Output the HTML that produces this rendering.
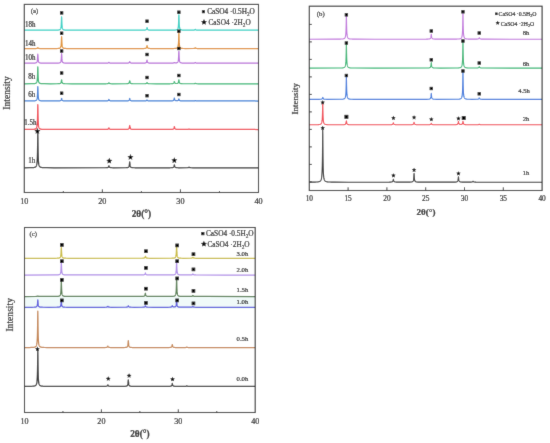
<!DOCTYPE html>
<html><head><meta charset="utf-8"><title>XRD patterns</title>
<style>html,body{margin:0;padding:0;background:#fff}svg{display:block}text{stroke:#1c1c1c;stroke-width:.2px}</style>
</head><body>
<svg width="550" height="443" viewBox="0 0 550 443" font-family='"Liberation Serif", serif' fill="#1c1c1c">
<defs><filter id="soft" x="0" y="0" width="100%" height="100%" filterUnits="objectBoundingBox"><feConvolveMatrix order="3" kernelMatrix="0.015 0.065 0.015 0.065 0.68 0.065 0.015 0.065 0.015" edgeMode="duplicate" preserveAlpha="true"/></filter></defs>
<rect width="550" height="443" fill="#fff"/>
<g filter="url(#soft)">
<rect width="550" height="443" fill="#fff" stroke="none"/>
<path d="M24.3 30.2 L54.8 30.16 L56.8 30.12 L57.7 30.08 L58.3 30.03 L58.7 29.98 L59 29.93 L59.2 29.89 L59.4 29.83 L59.6 29.76 L59.7 29.72 L59.8 29.67 L59.9 29.61 L60 29.55 L60.1 29.47 L60.2 29.38 L60.3 29.27 L60.4 29.14 L60.5 28.98 L60.6 28.79 L60.7 28.55 L60.8 28.25 L60.9 27.87 L61 27.36 L61.1 26.68 L61.2 25.72 L61.3 24.29 L61.4 22.09 L61.5 19.03 L61.6 16.75 L61.7 18.06 L61.8 21.19 L61.9 23.69 L62 25.33 L62.1 26.42 L62.2 27.17 L62.3 27.72 L62.4 28.14 L62.5 28.46 L62.6 28.72 L62.7 28.92 L62.8 29.09 L62.9 29.23 L63 29.34 L63.1 29.44 L63.2 29.52 L63.3 29.59 L63.4 29.65 L63.5 29.7 L63.6 29.75 L63.8 29.82 L64 29.88 L64.2 29.92 L64.5 29.98 L64.9 30.02 L65.4 30.07 L66.2 30.11 L67.8 30.15 L75.3 30.19 L143.2 30.15 L144.3 30.1 L144.8 30.06 L145.2 30.01 L145.5 29.95 L145.7 29.89 L145.8 29.85 L145.9 29.8 L146 29.75 L146.1 29.68 L146.2 29.6 L146.3 29.5 L146.4 29.38 L146.5 29.21 L146.6 28.99 L146.7 28.68 L146.8 28.29 L146.9 27.86 L147 27.61 L147.1 27.72 L147.2 28.11 L147.3 28.53 L147.4 28.87 L147.5 29.13 L147.6 29.31 L147.7 29.46 L147.8 29.56 L147.9 29.65 L148 29.72 L148.1 29.78 L148.2 29.83 L148.3 29.87 L148.5 29.93 L148.7 29.98 L149 30.03 L149.4 30.08 L150.1 30.12 L151.7 30.16 L173.6 30.12 L174.7 30.07 L175.3 30.03 L175.7 29.99 L176 29.94 L176.3 29.88 L176.5 29.83 L176.7 29.77 L176.8 29.73 L176.9 29.68 L177 29.63 L177.1 29.57 L177.2 29.51 L177.3 29.43 L177.4 29.33 L177.5 29.22 L177.6 29.09 L177.7 28.93 L177.8 28.74 L177.9 28.5 L178 28.2 L178.1 27.82 L178.2 27.33 L178.3 26.68 L178.4 25.79 L178.5 24.49 L178.6 22.52 L178.7 19.5 L178.8 15.9 L178.9 14.9 L179 17.87 L179.1 21.33 L179.2 23.73 L179.3 25.28 L179.4 26.32 L179.5 27.07 L179.6 27.62 L179.7 28.04 L179.8 28.37 L179.9 28.64 L180 28.85 L180.1 29.02 L180.2 29.17 L180.3 29.29 L180.4 29.39 L180.5 29.47 L180.6 29.54 L180.7 29.61 L180.8 29.66 L180.9 29.71 L181 29.75 L181.2 29.82 L181.4 29.87 L181.6 29.92 L181.9 29.97 L182.3 30.02 L182.8 30.06 L183.6 30.1 L185.2 30.14 L193.7 30.09 L194.1 30.05 L194.4 29.98 L194.6 29.91 L194.7 29.86 L194.8 29.8 L194.9 29.71 L195 29.61 L195.1 29.5 L195.2 29.41 L195.3 29.4 L195.4 29.46 L195.5 29.57 L195.6 29.68 L195.7 29.77 L195.8 29.84 L195.9 29.9 L196 29.94 L196.2 30 L196.4 30.04 L196.7 30.08 L197.2 30.12 L198.5 30.17 L258.4 30.2" fill="none" stroke="#2fd0c4" stroke-width="1.25" stroke-linejoin="round"/>
<path d="M24.3 48.6 L35.1 48.55 L36 48.51 L36.5 48.46 L36.8 48.4 L37 48.34 L37.1 48.3 L37.2 48.25 L37.3 48.19 L37.4 48.1 L37.5 47.99 L37.6 47.87 L37.7 47.75 L37.8 47.7 L37.9 47.74 L38 47.85 L38.1 47.98 L38.2 48.09 L38.3 48.18 L38.4 48.25 L38.5 48.3 L38.6 48.34 L38.8 48.4 L39 48.44 L39.3 48.48 L39.8 48.52 L41 48.56 L56.8 48.52 L57.8 48.48 L58.4 48.43 L58.8 48.38 L59.1 48.33 L59.3 48.29 L59.5 48.23 L59.7 48.16 L59.8 48.11 L59.9 48.06 L60 48 L60.1 47.93 L60.2 47.85 L60.3 47.75 L60.4 47.63 L60.5 47.49 L60.6 47.32 L60.7 47.1 L60.8 46.83 L60.9 46.49 L61 46.04 L61.1 45.42 L61.2 44.56 L61.3 43.28 L61.4 41.32 L61.5 38.62 L61.6 36.65 L61.7 37.78 L61.8 40.52 L61.9 42.75 L62 44.21 L62.1 45.18 L62.2 45.86 L62.3 46.36 L62.4 46.73 L62.5 47.02 L62.6 47.26 L62.7 47.44 L62.8 47.59 L62.9 47.72 L63 47.82 L63.1 47.91 L63.2 47.98 L63.3 48.05 L63.4 48.1 L63.5 48.15 L63.6 48.19 L63.8 48.25 L64 48.31 L64.2 48.35 L64.5 48.39 L64.9 48.44 L65.5 48.48 L66.5 48.53 L68.9 48.57 L143.8 48.52 L144.5 48.48 L144.9 48.44 L145.2 48.39 L145.4 48.35 L145.6 48.29 L145.7 48.25 L145.8 48.21 L145.9 48.16 L146 48.1 L146.1 48.03 L146.2 47.94 L146.3 47.83 L146.4 47.68 L146.5 47.49 L146.6 47.24 L146.7 46.89 L146.8 46.43 L146.9 45.92 L147 45.61 L147.1 45.75 L147.2 46.21 L147.3 46.71 L147.4 47.11 L147.5 47.4 L147.6 47.61 L147.7 47.77 L147.8 47.89 L147.9 47.99 L148 48.07 L148.1 48.14 L148.2 48.19 L148.3 48.24 L148.5 48.31 L148.7 48.36 L148.9 48.4 L149.2 48.45 L149.7 48.49 L150.5 48.53 L152.9 48.57 L173.2 48.53 L174.4 48.49 L175.1 48.45 L175.6 48.4 L175.9 48.36 L176.2 48.31 L176.4 48.26 L176.6 48.2 L176.8 48.13 L176.9 48.08 L177 48.03 L177.1 47.97 L177.2 47.91 L177.3 47.83 L177.4 47.73 L177.5 47.62 L177.6 47.49 L177.7 47.33 L177.8 47.14 L177.9 46.9 L178 46.6 L178.1 46.22 L178.2 45.73 L178.3 45.08 L178.4 44.19 L178.5 42.89 L178.6 40.92 L178.7 37.9 L178.8 34.3 L178.9 33.3 L179 36.27 L179.1 39.73 L179.2 42.13 L179.3 43.68 L179.4 44.72 L179.5 45.47 L179.6 46.02 L179.7 46.44 L179.8 46.77 L179.9 47.04 L180 47.25 L180.1 47.42 L180.2 47.57 L180.3 47.69 L180.4 47.79 L180.5 47.87 L180.6 47.94 L180.7 48.01 L180.8 48.06 L180.9 48.11 L181 48.15 L181.2 48.22 L181.4 48.27 L181.6 48.32 L181.9 48.37 L182.3 48.42 L182.8 48.46 L183.6 48.5 L185.2 48.54 L193.7 48.49 L194.1 48.45 L194.4 48.38 L194.6 48.31 L194.7 48.26 L194.8 48.2 L194.9 48.11 L195 48.01 L195.1 47.9 L195.2 47.81 L195.3 47.8 L195.4 47.86 L195.5 47.97 L195.6 48.08 L195.7 48.17 L195.8 48.24 L195.9 48.3 L196 48.34 L196.2 48.4 L196.4 48.44 L196.7 48.48 L197.2 48.52 L198.5 48.57 L258.4 48.6" fill="none" stroke="#e0912c" stroke-width="1.25" stroke-linejoin="round"/>
<path d="M24.3 63.19 L32.3 63.15 L33.8 63.11 L34.5 63.07 L35 63.02 L35.3 62.98 L35.6 62.92 L35.8 62.87 L36 62.8 L36.1 62.76 L36.2 62.71 L36.3 62.65 L36.4 62.58 L36.5 62.5 L36.6 62.41 L36.7 62.29 L36.8 62.15 L36.9 61.98 L37 61.76 L37.1 61.48 L37.2 61.12 L37.3 60.63 L37.4 59.93 L37.5 58.91 L37.6 57.37 L37.7 55.4 L37.8 54.2 L37.9 55.19 L38 57.17 L38.1 58.76 L38.2 59.84 L38.3 60.56 L38.4 61.07 L38.5 61.44 L38.6 61.73 L38.7 61.95 L38.8 62.13 L38.9 62.28 L39 62.39 L39.1 62.49 L39.2 62.57 L39.3 62.64 L39.4 62.7 L39.5 62.75 L39.6 62.79 L39.8 62.86 L40 62.92 L40.2 62.96 L40.5 63.01 L40.9 63.05 L41.5 63.09 L42.6 63.13 L46.3 63.17 L56.8 63.13 L57.9 63.09 L58.5 63.05 L58.9 63 L59.2 62.95 L59.4 62.91 L59.6 62.86 L59.8 62.79 L59.9 62.74 L60 62.69 L60.1 62.64 L60.2 62.57 L60.3 62.48 L60.4 62.39 L60.5 62.27 L60.6 62.13 L60.7 61.95 L60.8 61.73 L60.9 61.44 L61 61.07 L61.1 60.57 L61.2 59.87 L61.3 58.84 L61.4 57.29 L61.5 55.21 L61.6 53.73 L61.7 54.57 L61.8 56.67 L61.9 58.41 L62 59.59 L62.1 60.38 L62.2 60.93 L62.3 61.34 L62.4 61.64 L62.5 61.88 L62.6 62.07 L62.7 62.23 L62.8 62.35 L62.9 62.46 L63 62.54 L63.1 62.62 L63.2 62.68 L63.3 62.73 L63.4 62.77 L63.6 62.85 L63.8 62.9 L64 62.95 L64.3 63 L64.7 63.04 L65.3 63.09 L66.3 63.13 L69 63.17 L107 63.13 L107.5 63.09 L107.8 63.05 L108 63 L108.2 62.94 L108.3 62.9 L108.4 62.84 L108.5 62.77 L108.6 62.68 L108.7 62.57 L108.8 62.46 L108.9 62.4 L109 62.42 L109.1 62.51 L109.2 62.63 L109.3 62.73 L109.4 62.81 L109.5 62.87 L109.6 62.92 L109.8 62.99 L110 63.04 L110.3 63.08 L110.8 63.12 L112 63.17 L127.2 63.12 L127.8 63.08 L128.2 63.02 L128.4 62.98 L128.6 62.93 L128.7 62.89 L128.8 62.85 L128.9 62.79 L129 62.73 L129.1 62.64 L129.2 62.53 L129.3 62.39 L129.4 62.2 L129.5 61.97 L129.6 61.77 L129.7 61.7 L129.8 61.8 L129.9 62.02 L130 62.24 L130.1 62.42 L130.2 62.56 L130.3 62.66 L130.4 62.74 L130.5 62.8 L130.6 62.85 L130.7 62.9 L130.9 62.96 L131.1 63.01 L131.4 63.05 L131.8 63.09 L132.6 63.14 L135.7 63.18 L143.4 63.13 L144.3 63.09 L144.8 63.05 L145.1 63.01 L145.4 62.95 L145.6 62.89 L145.7 62.85 L145.8 62.81 L145.9 62.76 L146 62.7 L146.1 62.63 L146.2 62.54 L146.3 62.42 L146.4 62.28 L146.5 62.09 L146.6 61.84 L146.7 61.49 L146.8 61.03 L146.9 60.52 L147 60.21 L147.1 60.34 L147.2 60.81 L147.3 61.31 L147.4 61.7 L147.5 62 L147.6 62.21 L147.7 62.37 L147.8 62.49 L147.9 62.59 L148 62.67 L148.1 62.73 L148.2 62.79 L148.3 62.83 L148.5 62.91 L148.7 62.96 L148.9 63 L149.2 63.04 L149.7 63.09 L150.5 63.13 L152.8 63.17 L171.8 63.13 L172.7 63.08 L173.1 63.04 L173.4 62.99 L173.6 62.94 L173.7 62.91 L173.8 62.87 L173.9 62.81 L174 62.74 L174.1 62.66 L174.2 62.58 L174.3 62.52 L174.4 62.52 L174.5 62.57 L174.6 62.65 L174.7 62.73 L174.8 62.79 L174.9 62.83 L175.1 62.89 L175.5 62.93 L176.3 62.89 L176.6 62.83 L176.8 62.78 L177 62.71 L177.1 62.66 L177.2 62.61 L177.3 62.55 L177.4 62.47 L177.5 62.39 L177.6 62.28 L177.7 62.15 L177.8 62 L177.9 61.81 L178 61.57 L178.1 61.27 L178.2 60.89 L178.3 60.37 L178.4 59.67 L178.5 58.65 L178.6 57.11 L178.7 54.79 L178.8 52.08 L178.9 51.33 L179 53.55 L179.1 56.19 L179.2 58.06 L179.3 59.27 L179.4 60.1 L179.5 60.69 L179.6 61.12 L179.7 61.46 L179.8 61.72 L179.9 61.93 L180 62.1 L180.1 62.24 L180.2 62.36 L180.3 62.45 L180.4 62.53 L180.5 62.6 L180.6 62.66 L180.7 62.71 L180.8 62.76 L181 62.83 L181.2 62.89 L181.4 62.93 L181.7 62.98 L182.1 63.03 L182.6 63.07 L183.5 63.11 L185.4 63.15 L193.7 63.11 L194.1 63.06 L194.4 63.01 L194.6 62.94 L194.7 62.9 L194.8 62.84 L194.9 62.77 L195 62.68 L195.1 62.58 L195.2 62.51 L195.3 62.5 L195.4 62.55 L195.5 62.65 L195.6 62.74 L195.7 62.82 L195.8 62.88 L195.9 62.93 L196.1 63 L196.3 63.04 L196.6 63.09 L197.1 63.13 L198.4 63.17 L258.4 63.2" fill="none" stroke="#b86fd8" stroke-width="1.25" stroke-linejoin="round"/>
<path d="M24.3 83.79 L31.2 83.74 L32.9 83.7 L33.7 83.66 L34.3 83.61 L34.7 83.56 L35 83.51 L35.2 83.47 L35.4 83.41 L35.6 83.34 L35.7 83.3 L35.8 83.26 L35.9 83.2 L36 83.14 L36.1 83.07 L36.2 82.99 L36.3 82.89 L36.4 82.78 L36.5 82.64 L36.6 82.48 L36.7 82.28 L36.8 82.04 L36.9 81.74 L37 81.36 L37.1 80.87 L37.2 80.23 L37.3 79.36 L37.4 78.11 L37.5 76.25 L37.6 73.36 L37.7 69.39 L37.8 66.81 L37.9 68.95 L38 72.96 L38.1 75.99 L38.2 77.94 L38.3 79.24 L38.4 80.15 L38.5 80.81 L38.6 81.31 L38.7 81.7 L38.8 82.01 L38.9 82.26 L39 82.46 L39.1 82.63 L39.2 82.77 L39.3 82.88 L39.4 82.98 L39.5 83.06 L39.6 83.14 L39.7 83.2 L39.8 83.25 L39.9 83.3 L40 83.34 L40.2 83.41 L40.4 83.46 L40.6 83.51 L40.9 83.56 L41.3 83.61 L41.8 83.65 L42.6 83.7 L44.1 83.74 L50.6 83.78 L57.6 83.74 L58.6 83.69 L59.2 83.65 L59.6 83.59 L59.8 83.55 L60 83.49 L60.2 83.42 L60.3 83.38 L60.4 83.33 L60.5 83.26 L60.6 83.19 L60.7 83.09 L60.8 82.98 L60.9 82.84 L61 82.65 L61.1 82.41 L61.2 82.08 L61.3 81.61 L61.4 80.97 L61.5 80.25 L61.6 79.8 L61.7 80.05 L61.8 80.74 L61.9 81.43 L62 81.95 L62.1 82.32 L62.2 82.59 L62.3 82.79 L62.4 82.94 L62.5 83.06 L62.6 83.16 L62.7 83.24 L62.8 83.31 L62.9 83.36 L63 83.41 L63.1 83.45 L63.3 83.52 L63.5 83.56 L63.8 83.62 L64.2 83.66 L64.8 83.71 L66 83.75 L71.8 83.79 L106.3 83.75 L107.1 83.71 L107.5 83.66 L107.8 83.61 L108 83.56 L108.1 83.53 L108.2 83.48 L108.3 83.43 L108.4 83.36 L108.5 83.27 L108.6 83.16 L108.7 83.02 L108.8 82.88 L108.9 82.8 L109 82.83 L109.1 82.95 L109.2 83.09 L109.3 83.22 L109.4 83.32 L109.5 83.4 L109.6 83.46 L109.7 83.51 L109.9 83.58 L110.1 83.62 L110.4 83.67 L110.9 83.72 L111.9 83.76 L126.6 83.72 L127.3 83.67 L127.7 83.62 L128 83.56 L128.2 83.51 L128.4 83.44 L128.5 83.4 L128.6 83.34 L128.7 83.28 L128.8 83.2 L128.9 83.1 L129 82.98 L129.1 82.83 L129.2 82.62 L129.3 82.34 L129.4 81.96 L129.5 81.47 L129.6 80.99 L129.7 80.8 L129.8 81.07 L129.9 81.57 L130 82.04 L130.1 82.4 L130.2 82.67 L130.3 82.86 L130.4 83.01 L130.5 83.13 L130.6 83.22 L130.7 83.29 L130.8 83.35 L130.9 83.4 L131 83.45 L131.2 83.52 L131.4 83.57 L131.7 83.62 L132.1 83.67 L132.7 83.71 L134 83.75 L144.9 83.71 L145.4 83.67 L145.7 83.62 L145.9 83.58 L146.1 83.52 L146.2 83.48 L146.3 83.43 L146.4 83.36 L146.5 83.28 L146.6 83.17 L146.7 83.03 L146.8 82.86 L146.9 82.69 L147 82.6 L147.1 82.64 L147.2 82.79 L147.3 82.96 L147.4 83.12 L147.5 83.24 L147.6 83.33 L147.7 83.4 L147.8 83.46 L147.9 83.5 L148.1 83.57 L148.3 83.61 L148.6 83.66 L149.1 83.71 L150 83.75 L156.3 83.79 L170.1 83.75 L171.4 83.71 L172.1 83.66 L172.5 83.61 L172.8 83.55 L173 83.5 L173.2 83.43 L173.3 83.38 L173.4 83.33 L173.5 83.26 L173.6 83.18 L173.7 83.07 L173.8 82.94 L173.9 82.75 L174 82.51 L174.1 82.2 L174.2 81.84 L174.3 81.58 L174.4 81.6 L174.5 81.88 L174.6 82.23 L174.7 82.53 L174.8 82.76 L174.9 82.93 L175 83.06 L175.1 83.16 L175.2 83.23 L175.3 83.29 L175.4 83.34 L175.6 83.41 L175.8 83.46 L176.1 83.5 L177.1 83.46 L177.3 83.41 L177.5 83.34 L177.6 83.3 L177.7 83.25 L177.8 83.18 L177.9 83.1 L178 83 L178.1 82.88 L178.2 82.72 L178.3 82.52 L178.4 82.24 L178.5 81.86 L178.6 81.32 L178.7 80.62 L178.8 79.95 L178.9 79.8 L179 80.3 L179.1 81.03 L179.2 81.65 L179.3 82.1 L179.4 82.42 L179.5 82.66 L179.6 82.84 L179.7 82.98 L179.8 83.09 L179.9 83.18 L180 83.25 L180.1 83.32 L180.2 83.37 L180.3 83.41 L180.5 83.48 L180.7 83.54 L180.9 83.58 L181.2 83.62 L181.6 83.67 L182.3 83.71 L183.7 83.75 L194 83.71 L194.4 83.66 L194.6 83.61 L194.7 83.58 L194.8 83.54 L194.9 83.49 L195 83.42 L195.1 83.36 L195.2 83.31 L195.4 83.34 L195.5 83.4 L195.6 83.47 L195.7 83.53 L195.8 83.57 L196 83.63 L196.3 83.68 L196.8 83.73 L198.1 83.77 L258.4 83.8" fill="none" stroke="#33b572" stroke-width="1.25" stroke-linejoin="round"/>
<path d="M24.3 100.99 L31.5 100.95 L33.1 100.91 L33.9 100.87 L34.4 100.83 L34.8 100.78 L35.1 100.73 L35.3 100.69 L35.5 100.64 L35.7 100.57 L35.8 100.53 L35.9 100.48 L36 100.43 L36.1 100.37 L36.2 100.3 L36.3 100.21 L36.4 100.11 L36.5 100 L36.6 99.86 L36.7 99.68 L36.8 99.47 L36.9 99.21 L37 98.89 L37.1 98.47 L37.2 97.91 L37.3 97.16 L37.4 96.09 L37.5 94.49 L37.6 92.03 L37.7 88.67 L37.8 86.51 L37.9 88.3 L38 91.69 L38.1 94.27 L38.2 95.95 L38.3 97.06 L38.4 97.84 L38.5 98.41 L38.6 98.84 L38.7 99.18 L38.8 99.45 L38.9 99.66 L39 99.84 L39.1 99.98 L39.2 100.1 L39.3 100.2 L39.4 100.29 L39.5 100.36 L39.6 100.42 L39.7 100.48 L39.8 100.52 L39.9 100.56 L40.1 100.63 L40.3 100.68 L40.5 100.73 L40.8 100.78 L41.2 100.82 L41.7 100.86 L42.5 100.91 L44.1 100.95 L58.9 100.9 L59.5 100.85 L59.8 100.81 L60.1 100.75 L60.3 100.69 L60.4 100.65 L60.5 100.61 L60.6 100.56 L60.7 100.49 L60.8 100.41 L60.9 100.32 L61 100.19 L61.1 100.03 L61.2 99.81 L61.3 99.51 L61.4 99.13 L61.5 98.73 L61.6 98.5 L61.7 98.63 L61.8 99 L61.9 99.4 L62 99.73 L62.1 99.97 L62.2 100.15 L62.3 100.28 L62.4 100.39 L62.5 100.47 L62.6 100.54 L62.7 100.59 L62.8 100.64 L63 100.71 L63.2 100.77 L63.4 100.81 L63.7 100.85 L64.2 100.9 L65.1 100.94 L68 100.98 L106.1 100.94 L106.9 100.89 L107.3 100.84 L107.6 100.79 L107.8 100.74 L107.9 100.7 L108 100.66 L108.1 100.61 L108.2 100.55 L108.3 100.48 L108.4 100.37 L108.5 100.24 L108.6 100.07 L108.7 99.85 L108.8 99.63 L108.9 99.5 L109 99.55 L109.1 99.74 L109.2 99.97 L109.3 100.16 L109.4 100.31 L109.5 100.43 L109.6 100.52 L109.7 100.59 L109.8 100.64 L109.9 100.69 L110.1 100.75 L110.3 100.8 L110.6 100.85 L111 100.89 L111.7 100.93 L113.9 100.97 L126.4 100.93 L127.2 100.89 L127.7 100.84 L128 100.79 L128.2 100.74 L128.4 100.68 L128.5 100.64 L128.6 100.6 L128.7 100.54 L128.8 100.47 L128.9 100.39 L129 100.29 L129.1 100.16 L129.2 99.98 L129.3 99.74 L129.4 99.42 L129.5 99.02 L129.6 98.64 L129.7 98.5 L129.8 98.71 L129.9 99.11 L130 99.49 L130.1 99.8 L130.2 100.02 L130.3 100.19 L130.4 100.31 L130.5 100.41 L130.6 100.49 L130.7 100.55 L130.8 100.61 L130.9 100.65 L131.1 100.72 L131.3 100.77 L131.6 100.83 L132 100.87 L132.6 100.92 L133.9 100.96 L145.1 100.91 L145.6 100.86 L145.9 100.81 L146.1 100.76 L146.2 100.72 L146.3 100.68 L146.4 100.63 L146.5 100.56 L146.6 100.47 L146.7 100.35 L146.8 100.21 L146.9 100.07 L147 100 L147.1 100.03 L147.2 100.15 L147.3 100.29 L147.4 100.42 L147.5 100.52 L147.6 100.6 L147.7 100.66 L147.8 100.71 L148 100.78 L148.2 100.82 L148.5 100.87 L149 100.91 L150 100.96 L171.1 100.91 L171.8 100.87 L172.2 100.83 L172.5 100.78 L172.7 100.74 L172.9 100.68 L173 100.64 L173.1 100.6 L173.2 100.55 L173.3 100.5 L173.4 100.43 L173.5 100.34 L173.6 100.23 L173.7 100.1 L173.8 99.92 L173.9 99.68 L174 99.35 L174.1 98.92 L174.2 98.41 L174.3 98.02 L174.4 98.04 L174.5 98.46 L174.6 98.97 L174.7 99.39 L174.8 99.7 L174.9 99.93 L175 100.1 L175.1 100.23 L175.2 100.33 L175.3 100.41 L175.4 100.47 L175.5 100.53 L175.6 100.57 L175.8 100.64 L176 100.69 L176.3 100.73 L177.5 100.68 L177.7 100.62 L177.8 100.59 L177.9 100.54 L178 100.49 L178.1 100.42 L178.2 100.33 L178.3 100.22 L178.4 100.07 L178.5 99.87 L178.6 99.61 L178.7 99.3 L178.8 99.03 L178.9 98.97 L179 99.17 L179.1 99.48 L179.2 99.77 L179.3 100.01 L179.4 100.18 L179.5 100.31 L179.6 100.41 L179.7 100.49 L179.8 100.55 L179.9 100.61 L180 100.65 L180.2 100.72 L180.4 100.77 L180.7 100.82 L181.1 100.87 L181.7 100.91 L183 100.95 L194.2 100.91 L194.5 100.87 L194.7 100.82 L194.8 100.79 L194.9 100.75 L195 100.7 L195.1 100.64 L195.2 100.6 L195.4 100.63 L195.5 100.68 L195.6 100.73 L195.7 100.78 L195.9 100.84 L196.2 100.89 L196.7 100.94 L198.2 100.98 L258.4 101" fill="none" stroke="#3b7fd6" stroke-width="1.25" stroke-linejoin="round"/>
<path d="M24.3 129.48 L30.3 129.44 L32.1 129.4 L33 129.35 L33.6 129.31 L34 129.27 L34.4 129.21 L34.7 129.16 L34.9 129.11 L35.1 129.06 L35.3 128.99 L35.4 128.94 L35.5 128.9 L35.6 128.85 L35.7 128.79 L35.8 128.72 L35.9 128.64 L36 128.56 L36.1 128.45 L36.2 128.33 L36.3 128.2 L36.4 128.03 L36.5 127.83 L36.6 127.6 L36.7 127.31 L36.8 126.96 L36.9 126.52 L37 125.97 L37.1 125.26 L37.2 124.32 L37.3 123.05 L37.4 121.24 L37.5 118.51 L37.6 114.26 L37.7 108.38 L37.8 104.51 L37.9 107.73 L38 113.68 L38.1 118.13 L38.2 120.99 L38.3 122.88 L38.4 124.2 L38.5 125.17 L38.6 125.9 L38.7 126.47 L38.8 126.92 L38.9 127.28 L39 127.57 L39.1 127.81 L39.2 128.01 L39.3 128.18 L39.4 128.32 L39.5 128.44 L39.6 128.54 L39.7 128.63 L39.8 128.71 L39.9 128.78 L40 128.84 L40.1 128.89 L40.2 128.94 L40.3 128.98 L40.5 129.05 L40.7 129.11 L40.9 129.16 L41.2 129.21 L41.5 129.26 L41.9 129.3 L42.4 129.34 L43.2 129.38 L44.5 129.42 L47.6 129.46 L106.4 129.42 L107 129.37 L107.4 129.32 L107.6 129.28 L107.8 129.22 L107.9 129.19 L108 129.15 L108.1 129.09 L108.2 129.03 L108.3 128.95 L108.4 128.84 L108.5 128.7 L108.6 128.51 L108.7 128.28 L108.8 128.04 L108.9 127.9 L109 127.96 L109.1 128.16 L109.2 128.4 L109.3 128.61 L109.4 128.78 L109.5 128.9 L109.6 128.99 L109.7 129.06 L109.8 129.12 L109.9 129.17 L110.1 129.24 L110.3 129.29 L110.6 129.34 L111 129.39 L111.7 129.43 L113.7 129.47 L126 129.43 L126.9 129.38 L127.4 129.33 L127.7 129.29 L127.9 129.24 L128.1 129.19 L128.3 129.12 L128.4 129.07 L128.5 129.01 L128.6 128.95 L128.7 128.87 L128.8 128.77 L128.9 128.65 L129 128.5 L129.1 128.3 L129.2 128.04 L129.3 127.67 L129.4 127.16 L129.5 126.49 L129.6 125.78 L129.7 125.5 L129.8 125.91 L129.9 126.63 L130 127.28 L130.1 127.76 L130.2 128.1 L130.3 128.35 L130.4 128.53 L130.5 128.68 L130.6 128.79 L130.7 128.89 L130.8 128.96 L130.9 129.03 L131 129.08 L131.1 129.12 L131.3 129.2 L131.5 129.25 L131.7 129.29 L132 129.34 L132.4 129.38 L133.1 129.42 L134.7 129.46 L171.2 129.42 L171.9 129.37 L172.3 129.33 L172.6 129.28 L172.8 129.23 L173 129.16 L173.1 129.12 L173.2 129.07 L173.3 129.02 L173.4 128.95 L173.5 128.86 L173.6 128.76 L173.7 128.62 L173.8 128.44 L173.9 128.21 L174 127.88 L174.1 127.45 L174.2 126.93 L174.3 126.55 L174.4 126.57 L174.5 126.99 L174.6 127.5 L174.7 127.92 L174.8 128.24 L174.9 128.47 L175 128.64 L175.1 128.77 L175.2 128.87 L175.3 128.96 L175.4 129.02 L175.5 129.08 L175.6 129.13 L175.7 129.17 L175.9 129.23 L176.1 129.28 L176.4 129.33 L176.8 129.37 L177.4 129.42 L178.8 129.46 L187.7 129.41 L188.1 129.37 L188.3 129.33 L188.5 129.27 L188.6 129.22 L188.7 129.16 L188.8 129.09 L188.9 129.03 L189.1 129.01 L189.2 129.07 L189.3 129.14 L189.4 129.2 L189.5 129.25 L189.7 129.32 L189.9 129.36 L190.2 129.4 L190.8 129.44 L193.1 129.48 L258.4 129.5" fill="none" stroke="#f0404c" stroke-width="1.25" stroke-linejoin="round"/>
<path d="M24.3 167.77 L29.4 167.73 L31.2 167.69 L32.2 167.65 L32.9 167.6 L33.4 167.56 L33.8 167.51 L34.1 167.46 L34.4 167.4 L34.6 167.35 L34.8 167.29 L35 167.22 L35.1 167.18 L35.2 167.13 L35.3 167.08 L35.4 167.02 L35.5 166.96 L35.6 166.89 L35.7 166.81 L35.8 166.71 L35.9 166.6 L36 166.48 L36.1 166.34 L36.2 166.17 L36.3 165.98 L36.4 165.75 L36.5 165.47 L36.6 165.14 L36.7 164.74 L36.8 164.25 L36.9 163.64 L37 162.87 L37.1 161.88 L37.2 160.57 L37.3 158.79 L37.4 156.26 L37.5 152.44 L37.6 146.49 L37.7 138.25 L37.8 132.82 L37.9 137.33 L38 145.67 L38.1 151.9 L38.2 155.91 L38.3 158.55 L38.4 160.4 L38.5 161.75 L38.6 162.77 L38.7 163.56 L38.8 164.19 L38.9 164.69 L39 165.1 L39.1 165.44 L39.2 165.72 L39.3 165.95 L39.4 166.15 L39.5 166.32 L39.6 166.47 L39.7 166.59 L39.8 166.7 L39.9 166.8 L40 166.88 L40.1 166.95 L40.2 167.02 L40.3 167.08 L40.4 167.13 L40.5 167.17 L40.6 167.22 L40.8 167.29 L41 167.35 L41.2 167.4 L41.4 167.44 L41.7 167.49 L42 167.53 L42.4 167.58 L42.9 167.62 L43.6 167.66 L44.7 167.7 L46.8 167.74 L53.9 167.78 L105.7 167.74 L106.6 167.69 L107.1 167.64 L107.4 167.59 L107.6 167.54 L107.8 167.47 L107.9 167.43 L108 167.38 L108.1 167.31 L108.2 167.23 L108.3 167.13 L108.4 167 L108.5 166.83 L108.6 166.6 L108.7 166.3 L108.8 165.99 L108.9 165.8 L109 165.87 L109.1 166.15 L109.2 166.46 L109.3 166.72 L109.4 166.92 L109.5 167.07 L109.6 167.19 L109.7 167.28 L109.8 167.35 L109.9 167.4 L110 167.45 L110.2 167.52 L110.4 167.58 L110.7 167.63 L111.1 167.68 L111.7 167.72 L113.2 167.76 L125.9 167.72 L126.7 167.67 L127.2 167.62 L127.5 167.58 L127.7 167.53 L127.9 167.48 L128.1 167.41 L128.2 167.36 L128.3 167.31 L128.4 167.25 L128.5 167.18 L128.6 167.09 L128.7 166.98 L128.8 166.85 L128.9 166.68 L129 166.47 L129.1 166.2 L129.2 165.83 L129.3 165.31 L129.4 164.56 L129.5 163.51 L129.6 162.32 L129.7 161.8 L129.8 162.53 L129.9 163.74 L130 164.74 L130.1 165.43 L130.2 165.92 L130.3 166.26 L130.4 166.52 L130.5 166.72 L130.6 166.88 L130.7 167 L130.8 167.11 L130.9 167.19 L131 167.26 L131.1 167.32 L131.2 167.37 L131.3 167.42 L131.5 167.49 L131.7 167.54 L131.9 167.58 L132.2 167.62 L132.6 167.67 L133.3 167.71 L134.7 167.75 L143.6 167.79 L170.2 167.75 L171.4 167.71 L172 167.66 L172.4 167.61 L172.7 167.55 L172.9 167.5 L173 167.46 L173.1 167.42 L173.2 167.37 L173.3 167.32 L173.4 167.25 L173.5 167.16 L173.6 167.05 L173.7 166.92 L173.8 166.74 L173.9 166.51 L174 166.18 L174.1 165.74 L174.2 165.23 L174.3 164.85 L174.4 164.87 L174.5 165.29 L174.6 165.8 L174.7 166.22 L174.8 166.54 L174.9 166.77 L175 166.94 L175.1 167.07 L175.2 167.17 L175.3 167.25 L175.4 167.32 L175.5 167.38 L175.6 167.43 L175.7 167.47 L175.9 167.53 L176.1 167.58 L176.4 167.63 L176.8 167.67 L177.4 167.71 L178.8 167.76 L187.6 167.71 L188 167.66 L188.3 167.6 L188.4 167.56 L188.5 167.52 L188.6 167.47 L188.7 167.4 L188.8 167.32 L188.9 167.24 L189 167.2 L189.1 167.22 L189.2 167.28 L189.3 167.37 L189.4 167.44 L189.5 167.5 L189.6 167.55 L189.8 167.61 L190 167.66 L190.3 167.7 L190.9 167.74 L192.9 167.78 L258.4 167.8" fill="none" stroke="#2c2c2c" stroke-width="1.25" stroke-linejoin="round"/>
<rect x="24.3" y="4.4" width="234.2" height="188.1" fill="none" stroke="#262626" stroke-width="1.1"/>
<line x1="102.37" y1="192.5" x2="102.37" y2="189.3" stroke="#262626" stroke-width="0.9"/>
<line x1="180.43" y1="192.5" x2="180.43" y2="189.3" stroke="#262626" stroke-width="0.9"/>
<line x1="63.33" y1="192.5" x2="63.33" y2="191.06" stroke="#262626" stroke-width="0.9"/>
<line x1="141.4" y1="192.5" x2="141.4" y2="191.06" stroke="#262626" stroke-width="0.9"/>
<line x1="219.47" y1="192.5" x2="219.47" y2="191.06" stroke="#262626" stroke-width="0.9"/>
<text transform="translate(24.3 204.1) scale(1 1)" font-size="8.2" text-anchor="middle" font-weight="normal">10</text>
<text transform="translate(102.37 204.1) scale(1 1)" font-size="8.2" text-anchor="middle" font-weight="normal">20</text>
<text transform="translate(180.43 204.1) scale(1 1)" font-size="8.2" text-anchor="middle" font-weight="normal">30</text>
<text transform="translate(258.5 204.1) scale(1 1)" font-size="8.2" text-anchor="middle" font-weight="normal">40</text>
<rect x="59.97" y="11.25" width="3.3" height="3.3" fill="#000"/>
<rect x="145.37" y="19.55" width="3.3" height="3.3" fill="#000"/>
<rect x="177.22" y="10.55" width="3.3" height="3.3" fill="#000"/>
<rect x="59.97" y="31.55" width="3.3" height="3.3" fill="#000"/>
<rect x="145.37" y="37.85" width="3.3" height="3.3" fill="#000"/>
<rect x="177.22" y="29.55" width="3.3" height="3.3" fill="#000"/>
<rect x="59.97" y="49.35" width="3.3" height="3.3" fill="#000"/>
<rect x="145.37" y="52.85" width="3.3" height="3.3" fill="#000"/>
<rect x="177.22" y="46.85" width="3.3" height="3.3" fill="#000"/>
<rect x="59.97" y="71.35" width="3.3" height="3.3" fill="#000"/>
<rect x="145.37" y="75.85" width="3.3" height="3.3" fill="#000"/>
<rect x="177.22" y="73.85" width="3.3" height="3.3" fill="#000"/>
<rect x="59.97" y="91.55" width="3.3" height="3.3" fill="#000"/>
<rect x="145.37" y="94.05" width="3.3" height="3.3" fill="#000"/>
<rect x="177.22" y="92.85" width="3.3" height="3.3" fill="#000"/>
<polygon points="37.42,128.05 38.3,129.98 40.41,130.23 38.85,131.67 39.27,133.75 37.42,132.71 35.56,133.75 35.98,131.67 34.42,130.23 36.53,129.98" fill="#000"/>
<polygon points="109.31,157.85 110.2,159.78 112.31,160.03 110.75,161.47 111.17,163.55 109.31,162.51 107.46,163.55 107.88,161.47 106.32,160.03 108.43,159.78" fill="#000"/>
<polygon points="130.47,154.05 131.36,155.98 133.47,156.23 131.91,157.67 132.32,159.75 130.47,158.71 128.62,159.75 129.03,157.67 127.47,156.23 129.58,155.98" fill="#000"/>
<polygon points="174.34,157.25 175.23,159.18 177.34,159.43 175.78,160.87 176.2,162.95 174.34,161.91 172.49,162.95 172.91,160.87 171.35,159.43 173.46,159.18" fill="#000"/>
<text transform="translate(25 26.6) scale(0.96 1)" font-size="7.3" text-anchor="start" font-weight="normal">18h</text>
<text transform="translate(25 45.5) scale(0.96 1)" font-size="7.3" text-anchor="start" font-weight="normal">14h</text>
<text transform="translate(25 59.8) scale(0.96 1)" font-size="7.3" text-anchor="start" font-weight="normal">10h</text>
<text transform="translate(28.3 78.8) scale(0.96 1)" font-size="7.3" text-anchor="start" font-weight="normal">8h</text>
<text transform="translate(28.3 97.4) scale(0.96 1)" font-size="7.3" text-anchor="start" font-weight="normal">6h</text>
<text transform="translate(24.2 125.1) scale(0.96 1)" font-size="7.3" text-anchor="start" font-weight="normal">1.5h</text>
<text transform="translate(28.3 162.8) scale(0.96 1)" font-size="7.3" text-anchor="start" font-weight="normal">1h</text>
<text transform="translate(30.8 12.9) scale(0.96 1)" font-size="7" text-anchor="start" font-weight="normal">(a)</text>
<rect x="201.9" y="10.2" width="3" height="3" fill="#000"/>
<text x="207.2" y="13.9" font-size="7.3">CaSO4 ·0.5H<tspan font-size="5.26" dy="2.19">2</tspan><tspan dy="-2.19">O</tspan></text>
<polygon points="204,19.1 204.87,21 206.95,21.24 205.42,22.66 205.82,24.71 204,23.69 202.18,24.71 202.58,22.66 201.05,21.24 203.13,21" fill="#000"/>
<text x="208.5" y="24.8" font-size="7.3">CaSO4 ·2H<tspan font-size="5.26" dy="2.19">2</tspan><tspan dy="-2.19">O</tspan></text>
<text transform="translate(9.6 93) rotate(-90)" font-size="9.6" text-anchor="middle">Intensity</text>
<text x="141.4" y="217.4" font-size="9.3" text-anchor="middle" font-weight="bold">2θ(°)</text>
<path d="M309.3 39.2 L337.6 39.16 L340.1 39.12 L341.3 39.07 L342 39.03 L342.5 38.99 L342.9 38.94 L343.2 38.89 L343.4 38.84 L343.6 38.79 L343.8 38.73 L343.9 38.7 L344 38.66 L344.1 38.61 L344.2 38.56 L344.3 38.5 L344.4 38.43 L344.5 38.36 L344.6 38.27 L344.7 38.17 L344.8 38.05 L344.9 37.92 L345 37.75 L345.1 37.56 L345.2 37.32 L345.3 37.04 L345.4 36.68 L345.5 36.25 L345.6 35.69 L345.7 34.97 L345.8 34.03 L345.9 32.73 L346 30.88 L346.1 28.06 L346.2 23.66 L346.3 17.8 L346.4 14.72 L346.5 18.64 L346.6 24.41 L346.7 28.54 L346.8 31.19 L346.9 32.95 L347 34.18 L347.1 35.09 L347.2 35.78 L347.3 36.31 L347.4 36.74 L347.5 37.08 L347.6 37.36 L347.7 37.59 L347.8 37.78 L347.9 37.94 L348 38.07 L348.1 38.19 L348.2 38.29 L348.3 38.37 L348.4 38.44 L348.5 38.51 L348.6 38.57 L348.7 38.62 L348.8 38.66 L349 38.74 L349.2 38.8 L349.4 38.85 L349.6 38.89 L349.9 38.94 L350.3 38.99 L350.8 39.03 L351.5 39.07 L352.6 39.11 L355 39.16 L374.8 39.2 L426.3 39.15 L427.8 39.11 L428.5 39.07 L428.9 39.03 L429.2 38.98 L429.4 38.94 L429.6 38.88 L429.8 38.81 L429.9 38.76 L430 38.71 L430.1 38.64 L430.2 38.57 L430.3 38.47 L430.4 38.36 L430.5 38.21 L430.6 38.03 L430.7 37.79 L430.8 37.48 L430.9 37.03 L431 36.39 L431.1 35.52 L431.2 34.58 L431.3 34.2 L431.4 34.79 L431.5 35.76 L431.6 36.58 L431.7 37.16 L431.8 37.57 L431.9 37.86 L432 38.08 L432.1 38.25 L432.2 38.39 L432.3 38.5 L432.4 38.59 L432.5 38.66 L432.6 38.72 L432.7 38.77 L432.8 38.82 L433 38.89 L433.2 38.94 L433.4 38.98 L433.7 39.03 L434.1 39.07 L434.8 39.11 L436.3 39.15 L456.5 39.11 L457.7 39.07 L458.4 39.03 L458.9 38.98 L459.3 38.94 L459.6 38.89 L459.9 38.83 L460.1 38.78 L460.3 38.71 L460.4 38.68 L460.5 38.63 L460.6 38.59 L460.7 38.54 L460.8 38.48 L460.9 38.41 L461 38.34 L461.1 38.25 L461.2 38.15 L461.3 38.03 L461.4 37.89 L461.5 37.73 L461.6 37.54 L461.7 37.31 L461.8 37.04 L461.9 36.7 L462 36.28 L462.1 35.75 L462.2 35.08 L462.3 34.21 L462.4 33.04 L462.5 31.4 L462.6 29 L462.7 25.27 L462.8 19.63 L462.9 13.71 L463 13.87 L463.1 19.89 L463.2 25.46 L463.3 29.12 L463.4 31.48 L463.5 33.09 L463.6 34.25 L463.7 35.11 L463.8 35.78 L463.9 36.3 L464 36.71 L464.1 37.05 L464.2 37.32 L464.3 37.55 L464.4 37.74 L464.5 37.9 L464.6 38.04 L464.7 38.15 L464.8 38.25 L464.9 38.34 L465 38.41 L465.1 38.48 L465.2 38.54 L465.3 38.59 L465.4 38.64 L465.5 38.68 L465.7 38.75 L465.9 38.8 L466.1 38.85 L466.4 38.9 L466.7 38.95 L467.1 38.99 L467.6 39.03 L468.4 39.08 L469.8 39.12 L477.2 39.08 L477.6 39.03 L477.9 38.98 L478.1 38.93 L478.3 38.86 L478.4 38.81 L478.5 38.76 L478.6 38.68 L478.7 38.59 L478.8 38.46 L478.9 38.3 L479 38.09 L479.1 37.86 L479.2 37.7 L479.3 37.72 L479.4 37.89 L479.5 38.12 L479.6 38.32 L479.7 38.48 L479.8 38.6 L479.9 38.7 L480 38.77 L480.1 38.82 L480.2 38.87 L480.4 38.94 L480.6 38.99 L480.9 39.04 L481.3 39.09 L482 39.13 L483.9 39.17 L542.1 39.2" fill="none" stroke="#c074dc" stroke-width="1.1" stroke-linejoin="round"/>
<path d="M309.3 68.1 L337.6 68.06 L340.1 68.02 L341.3 67.97 L342 67.93 L342.5 67.89 L342.9 67.84 L343.2 67.79 L343.4 67.74 L343.6 67.69 L343.8 67.63 L343.9 67.6 L344 67.56 L344.1 67.51 L344.2 67.46 L344.3 67.4 L344.4 67.33 L344.5 67.26 L344.6 67.17 L344.7 67.07 L344.8 66.95 L344.9 66.82 L345 66.65 L345.1 66.46 L345.2 66.22 L345.3 65.94 L345.4 65.58 L345.5 65.15 L345.6 64.59 L345.7 63.87 L345.8 62.93 L345.9 61.63 L346 59.78 L346.1 56.96 L346.2 52.56 L346.3 46.7 L346.4 43.62 L346.5 47.54 L346.6 53.31 L346.7 57.44 L346.8 60.09 L346.9 61.85 L347 63.08 L347.1 63.99 L347.2 64.68 L347.3 65.21 L347.4 65.64 L347.5 65.98 L347.6 66.26 L347.7 66.49 L347.8 66.68 L347.9 66.84 L348 66.97 L348.1 67.09 L348.2 67.19 L348.3 67.27 L348.4 67.34 L348.5 67.41 L348.6 67.47 L348.7 67.52 L348.8 67.56 L349 67.64 L349.2 67.7 L349.4 67.75 L349.6 67.79 L349.9 67.84 L350.3 67.89 L350.8 67.93 L351.5 67.97 L352.6 68.01 L355 68.06 L374.8 68.1 L426.2 68.05 L427.7 68.01 L428.4 67.97 L428.8 67.93 L429.1 67.89 L429.4 67.82 L429.6 67.76 L429.7 67.73 L429.8 67.69 L429.9 67.64 L430 67.58 L430.1 67.51 L430.2 67.43 L430.3 67.33 L430.4 67.2 L430.5 67.05 L430.6 66.85 L430.7 66.6 L430.8 66.25 L430.9 65.77 L431 65.07 L431.1 64.1 L431.2 63.03 L431.3 62.61 L431.4 63.28 L431.5 64.37 L431.6 65.27 L431.7 65.91 L431.8 66.35 L431.9 66.67 L432 66.91 L432.1 67.09 L432.2 67.24 L432.3 67.35 L432.4 67.45 L432.5 67.53 L432.6 67.59 L432.7 67.65 L432.8 67.7 L432.9 67.74 L433.1 67.8 L433.3 67.85 L433.6 67.91 L434 67.95 L434.6 68 L435.7 68.04 L440.4 68.08 L455.2 68.04 L457 68 L458 67.95 L458.6 67.91 L459.1 67.86 L459.4 67.82 L459.7 67.77 L459.9 67.73 L460.1 67.68 L460.3 67.61 L460.4 67.58 L460.5 67.53 L460.6 67.49 L460.7 67.44 L460.8 67.38 L460.9 67.31 L461 67.24 L461.1 67.15 L461.2 67.05 L461.3 66.93 L461.4 66.79 L461.5 66.63 L461.6 66.44 L461.7 66.21 L461.8 65.94 L461.9 65.6 L462 65.18 L462.1 64.65 L462.2 63.98 L462.3 63.11 L462.4 61.94 L462.5 60.3 L462.6 57.9 L462.7 54.17 L462.8 48.53 L462.9 42.61 L463 42.77 L463.1 48.79 L463.2 54.36 L463.3 58.02 L463.4 60.38 L463.5 61.99 L463.6 63.15 L463.7 64.01 L463.8 64.68 L463.9 65.2 L464 65.61 L464.1 65.95 L464.2 66.22 L464.3 66.45 L464.4 66.64 L464.5 66.8 L464.6 66.94 L464.7 67.05 L464.8 67.15 L464.9 67.24 L465 67.31 L465.1 67.38 L465.2 67.44 L465.3 67.49 L465.4 67.54 L465.5 67.58 L465.7 67.65 L465.9 67.7 L466.1 67.75 L466.4 67.8 L466.7 67.85 L467.1 67.89 L467.6 67.93 L468.4 67.98 L469.8 68.02 L477.2 67.98 L477.6 67.93 L477.9 67.88 L478.1 67.83 L478.3 67.76 L478.4 67.71 L478.5 67.66 L478.6 67.58 L478.7 67.49 L478.8 67.36 L478.9 67.2 L479 66.99 L479.1 66.76 L479.2 66.6 L479.3 66.62 L479.4 66.79 L479.5 67.02 L479.6 67.22 L479.7 67.38 L479.8 67.5 L479.9 67.6 L480 67.67 L480.1 67.72 L480.2 67.77 L480.4 67.84 L480.6 67.89 L480.9 67.94 L481.3 67.99 L482 68.03 L483.9 68.07 L542.1 68.1" fill="none" stroke="#33b572" stroke-width="1.1" stroke-linejoin="round"/>
<path d="M309.3 99.39 L319 99.35 L320.2 99.31 L320.7 99.26 L321.1 99.21 L321.3 99.17 L321.5 99.11 L321.6 99.07 L321.7 99.03 L321.8 98.98 L321.9 98.92 L322 98.84 L322.1 98.74 L322.2 98.61 L322.3 98.43 L322.4 98.2 L322.5 97.91 L322.6 97.59 L322.7 97.4 L322.8 97.47 L322.9 97.75 L323 98.06 L323.1 98.33 L323.2 98.53 L323.3 98.68 L323.4 98.79 L323.5 98.88 L323.6 98.95 L323.7 99 L323.8 99.05 L324 99.12 L324.2 99.18 L324.5 99.23 L324.9 99.28 L325.5 99.32 L327 99.36 L340.2 99.32 L341.4 99.27 L342.1 99.23 L342.6 99.19 L343 99.14 L343.3 99.08 L343.5 99.04 L343.7 98.99 L343.9 98.92 L344 98.89 L344.1 98.84 L344.2 98.8 L344.3 98.74 L344.4 98.68 L344.5 98.61 L344.6 98.53 L344.7 98.43 L344.8 98.32 L344.9 98.19 L345 98.04 L345.1 97.85 L345.2 97.63 L345.3 97.36 L345.4 97.03 L345.5 96.62 L345.6 96.1 L345.7 95.43 L345.8 94.54 L345.9 93.32 L346 91.58 L346.1 88.93 L346.2 84.8 L346.3 79.3 L346.4 76.42 L346.5 80.09 L346.6 85.51 L346.7 89.39 L346.8 91.87 L346.9 93.52 L347 94.68 L347.1 95.54 L347.2 96.18 L347.3 96.69 L347.4 97.09 L347.5 97.41 L347.6 97.67 L347.7 97.88 L347.8 98.06 L347.9 98.21 L348 98.34 L348.1 98.45 L348.2 98.54 L348.3 98.62 L348.4 98.69 L348.5 98.75 L348.6 98.8 L348.7 98.85 L348.8 98.89 L349 98.96 L349.2 99.02 L349.4 99.07 L349.7 99.12 L350 99.17 L350.4 99.21 L351 99.25 L351.9 99.3 L353.5 99.34 L358.5 99.38 L426.9 99.34 L428 99.29 L428.6 99.25 L429 99.19 L429.3 99.13 L429.5 99.08 L429.7 99.01 L429.8 98.96 L429.9 98.91 L430 98.85 L430.1 98.78 L430.2 98.69 L430.3 98.58 L430.4 98.45 L430.5 98.29 L430.6 98.08 L430.7 97.8 L430.8 97.43 L430.9 96.91 L431 96.15 L431.1 95.08 L431.2 93.89 L431.3 93.41 L431.4 94.17 L431.5 95.39 L431.6 96.37 L431.7 97.06 L431.8 97.54 L431.9 97.88 L432 98.13 L432.1 98.33 L432.2 98.49 L432.3 98.61 L432.4 98.71 L432.5 98.8 L432.6 98.87 L432.7 98.93 L432.8 98.98 L432.9 99.02 L433.1 99.09 L433.3 99.14 L433.5 99.18 L433.8 99.22 L434.2 99.27 L434.9 99.31 L436.4 99.35 L456.4 99.31 L457.6 99.27 L458.3 99.23 L458.8 99.18 L459.2 99.14 L459.5 99.09 L459.8 99.03 L460 98.98 L460.2 98.92 L460.4 98.85 L460.5 98.8 L460.6 98.75 L460.7 98.7 L460.8 98.64 L460.9 98.57 L461 98.49 L461.1 98.4 L461.2 98.29 L461.3 98.17 L461.4 98.02 L461.5 97.85 L461.6 97.65 L461.7 97.41 L461.8 97.12 L461.9 96.76 L462 96.32 L462.1 95.76 L462.2 95.05 L462.3 94.13 L462.4 92.89 L462.5 91.17 L462.6 88.63 L462.7 84.69 L462.8 78.73 L462.9 72.46 L463 72.64 L463.1 79 L463.2 84.89 L463.3 88.75 L463.4 91.25 L463.5 92.95 L463.6 94.17 L463.7 95.08 L463.8 95.79 L463.9 96.34 L464 96.77 L464.1 97.13 L464.2 97.42 L464.3 97.66 L464.4 97.86 L464.5 98.03 L464.6 98.17 L464.7 98.29 L464.8 98.4 L464.9 98.49 L465 98.57 L465.1 98.64 L465.2 98.7 L465.3 98.76 L465.4 98.8 L465.5 98.85 L465.7 98.92 L465.9 98.98 L466.1 99.03 L466.3 99.07 L466.6 99.12 L467 99.17 L467.5 99.22 L468.2 99.26 L469.3 99.3 L471.8 99.34 L476.9 99.3 L477.5 99.25 L477.8 99.2 L478 99.16 L478.2 99.1 L478.3 99.06 L478.4 99.01 L478.5 98.96 L478.6 98.88 L478.7 98.79 L478.8 98.66 L478.9 98.5 L479 98.29 L479.1 98.06 L479.2 97.9 L479.3 97.92 L479.4 98.09 L479.5 98.32 L479.6 98.52 L479.7 98.68 L479.8 98.8 L479.9 98.89 L480 98.97 L480.1 99.02 L480.2 99.07 L480.4 99.14 L480.6 99.19 L480.9 99.24 L481.3 99.28 L482 99.33 L483.9 99.37 L542.1 99.4" fill="none" stroke="#3b78dc" stroke-width="1.1" stroke-linejoin="round"/>
<path d="M309.3 124.78 L315.5 124.74 L317.3 124.7 L318.2 124.66 L318.8 124.61 L319.2 124.57 L319.5 124.52 L319.8 124.46 L320 124.42 L320.2 124.36 L320.4 124.28 L320.5 124.24 L320.6 124.19 L320.7 124.13 L320.8 124.06 L320.9 123.99 L321 123.9 L321.1 123.8 L321.2 123.68 L321.3 123.54 L321.4 123.38 L321.5 123.18 L321.6 122.94 L321.7 122.64 L321.8 122.27 L321.9 121.81 L322 121.22 L322.1 120.44 L322.2 119.4 L322.3 117.92 L322.4 115.71 L322.5 112.28 L322.6 107.28 L322.7 103.03 L322.8 104.72 L322.9 109.96 L323 114.2 L323.1 116.94 L323.2 118.73 L323.3 119.97 L323.4 120.86 L323.5 121.54 L323.6 122.06 L323.7 122.47 L323.8 122.8 L323.9 123.06 L324 123.28 L324.1 123.46 L324.2 123.62 L324.3 123.74 L324.4 123.85 L324.5 123.95 L324.6 124.03 L324.7 124.1 L324.8 124.16 L324.9 124.21 L325 124.26 L325.1 124.3 L325.3 124.37 L325.5 124.43 L325.7 124.47 L326 124.53 L326.3 124.57 L326.7 124.61 L327.3 124.66 L328.2 124.7 L329.9 124.74 L343.4 124.69 L344 124.64 L344.3 124.6 L344.6 124.54 L344.8 124.49 L345 124.42 L345.1 124.37 L345.2 124.32 L345.3 124.25 L345.4 124.17 L345.5 124.08 L345.6 123.96 L345.7 123.81 L345.8 123.61 L345.9 123.35 L346 122.99 L346.1 122.49 L346.2 121.81 L346.3 121.1 L346.4 120.8 L346.5 121.19 L346.6 121.92 L346.7 122.57 L346.8 123.05 L346.9 123.39 L347 123.64 L347.1 123.83 L347.2 123.98 L347.3 124.09 L347.4 124.18 L347.5 124.26 L347.6 124.32 L347.7 124.38 L347.8 124.42 L348 124.5 L348.2 124.55 L348.4 124.59 L348.7 124.63 L349.1 124.68 L349.8 124.72 L351.4 124.76 L390.8 124.71 L391.4 124.67 L391.8 124.61 L392 124.57 L392.2 124.51 L392.3 124.47 L392.4 124.43 L392.5 124.38 L392.6 124.31 L392.7 124.23 L392.8 124.13 L392.9 124 L393 123.82 L393.1 123.59 L393.2 123.29 L393.3 122.98 L393.4 122.8 L393.5 122.89 L393.6 123.17 L393.7 123.48 L393.8 123.74 L393.9 123.94 L394 124.09 L394.1 124.2 L394.2 124.29 L394.3 124.35 L394.4 124.41 L394.5 124.46 L394.7 124.53 L394.9 124.58 L395.2 124.63 L395.6 124.68 L396.2 124.72 L397.7 124.76 L411.1 124.72 L411.8 124.67 L412.2 124.62 L412.5 124.56 L412.7 124.51 L412.8 124.47 L412.9 124.43 L413 124.38 L413.1 124.33 L413.2 124.25 L413.3 124.17 L413.4 124.06 L413.5 123.91 L413.6 123.72 L413.7 123.46 L413.8 123.11 L413.9 122.7 L414 122.36 L414.1 122.33 L414.2 122.62 L414.3 123.04 L414.4 123.4 L414.5 123.67 L414.6 123.88 L414.7 124.03 L414.8 124.15 L414.9 124.24 L415 124.31 L415.1 124.37 L415.2 124.42 L415.3 124.46 L415.5 124.53 L415.7 124.58 L416 124.63 L416.4 124.68 L417.1 124.72 L418.8 124.76 L428.8 124.72 L429.4 124.68 L429.8 124.62 L430 124.58 L430.2 124.53 L430.3 124.49 L430.4 124.45 L430.5 124.39 L430.6 124.33 L430.7 124.24 L430.8 124.13 L430.9 123.98 L431 123.79 L431.1 123.57 L431.2 123.37 L431.3 123.3 L431.4 123.41 L431.5 123.63 L431.6 123.85 L431.7 124.03 L431.8 124.16 L431.9 124.27 L432 124.35 L432.1 124.41 L432.2 124.46 L432.3 124.5 L432.5 124.56 L432.7 124.61 L433 124.66 L433.4 124.7 L434.2 124.74 L437 124.78 L454.2 124.74 L455.3 124.7 L455.9 124.66 L456.3 124.61 L456.6 124.56 L456.8 124.51 L457 124.45 L457.1 124.41 L457.2 124.36 L457.3 124.31 L457.4 124.24 L457.5 124.16 L457.6 124.07 L457.7 123.95 L457.8 123.79 L457.9 123.59 L458 123.32 L458.1 122.95 L458.2 122.44 L458.3 121.82 L458.4 121.33 L458.5 121.34 L458.6 121.85 L458.7 122.46 L458.8 122.96 L458.9 123.32 L459 123.59 L459.1 123.78 L459.2 123.92 L459.3 124.04 L459.4 124.13 L459.5 124.2 L459.6 124.26 L459.7 124.31 L459.8 124.35 L460 124.41 L460.3 124.46 L461.4 124.41 L461.6 124.35 L461.7 124.31 L461.8 124.26 L461.9 124.2 L462 124.12 L462.1 124.03 L462.2 123.92 L462.3 123.77 L462.4 123.57 L462.5 123.31 L462.6 122.94 L462.7 122.44 L462.8 121.82 L462.9 121.33 L463 121.34 L463.1 121.85 L463.2 122.47 L463.3 122.97 L463.4 123.34 L463.5 123.6 L463.6 123.8 L463.7 123.95 L463.8 124.07 L463.9 124.17 L464 124.24 L464.1 124.31 L464.2 124.36 L464.3 124.41 L464.5 124.48 L464.7 124.54 L464.9 124.58 L465.2 124.62 L465.6 124.66 L466.3 124.71 L467.7 124.75 L477.9 124.7 L478.3 124.65 L478.5 124.6 L478.7 124.53 L478.8 124.48 L478.9 124.42 L479 124.34 L479.1 124.25 L479.2 124.2 L479.3 124.2 L479.4 124.26 L479.5 124.35 L479.6 124.42 L479.7 124.49 L479.8 124.54 L480 124.61 L480.2 124.65 L480.5 124.69 L481.1 124.74 L483 124.78 L542.1 124.8" fill="none" stroke="#f0404c" stroke-width="1.1" stroke-linejoin="round"/>
<path d="M309.3 182.16 L313.3 182.12 L315.1 182.08 L316.2 182.03 L316.9 181.99 L317.4 181.95 L317.8 181.91 L318.2 181.86 L318.5 181.81 L318.8 181.75 L319 181.7 L319.2 181.64 L319.4 181.58 L319.5 181.54 L319.6 181.5 L319.7 181.45 L319.8 181.4 L319.9 181.34 L320 181.28 L320.1 181.22 L320.2 181.14 L320.3 181.06 L320.4 180.96 L320.5 180.86 L320.6 180.74 L320.7 180.6 L320.8 180.44 L320.9 180.26 L321 180.06 L321.1 179.81 L321.2 179.53 L321.3 179.2 L321.4 178.8 L321.5 178.32 L321.6 177.74 L321.7 177.03 L321.8 176.15 L321.9 175.04 L322 173.62 L322.1 171.76 L322.2 169.24 L322.3 165.69 L322.4 160.39 L322.5 152.12 L322.6 140.05 L322.7 129.76 L322.8 133.86 L322.9 146.54 L323 156.75 L323.1 163.34 L323.2 167.64 L323.3 170.61 L323.4 172.77 L323.5 174.39 L323.6 175.64 L323.7 176.62 L323.8 177.41 L323.9 178.05 L324 178.57 L324.1 179.01 L324.2 179.37 L324.3 179.68 L324.4 179.94 L324.5 180.16 L324.6 180.36 L324.7 180.52 L324.8 180.67 L324.9 180.8 L325 180.91 L325.1 181.01 L325.2 181.1 L325.3 181.18 L325.4 181.25 L325.5 181.32 L325.6 181.37 L325.7 181.43 L325.8 181.47 L325.9 181.52 L326.1 181.59 L326.3 181.66 L326.5 181.71 L326.7 181.76 L326.9 181.8 L327.2 181.85 L327.5 181.89 L327.9 181.94 L328.4 181.98 L329.1 182.03 L330 182.07 L331.5 182.11 L334.5 182.15 L348.3 182.19 L389.4 182.15 L390.5 182.11 L391.1 182.06 L391.5 182.01 L391.8 181.95 L392 181.89 L392.1 181.85 L392.2 181.81 L392.3 181.76 L392.4 181.7 L392.5 181.63 L392.6 181.54 L392.7 181.43 L392.8 181.28 L392.9 181.09 L393 180.84 L393.1 180.48 L393.2 180.02 L393.3 179.51 L393.4 179.2 L393.5 179.35 L393.6 179.83 L393.7 180.33 L393.8 180.72 L393.9 181.01 L394 181.22 L394.1 181.38 L394.2 181.5 L394.3 181.6 L394.4 181.67 L394.5 181.74 L394.6 181.79 L394.7 181.84 L394.9 181.91 L395.1 181.96 L395.4 182.02 L395.8 182.07 L396.4 182.11 L397.7 182.15 L410 182.11 L410.8 182.06 L411.3 182.02 L411.6 181.97 L411.9 181.91 L412.1 181.86 L412.3 181.78 L412.4 181.74 L412.5 181.69 L412.6 181.63 L412.7 181.55 L412.8 181.47 L412.9 181.36 L413 181.24 L413.1 181.08 L413.2 180.89 L413.3 180.65 L413.4 180.34 L413.5 179.93 L413.6 179.36 L413.7 178.54 L413.8 177.3 L413.9 175.52 L414 173.64 L414.1 173.4 L414.2 175.11 L414.3 176.99 L414.4 178.33 L414.5 179.22 L414.6 179.83 L414.7 180.27 L414.8 180.6 L414.9 180.85 L415 181.05 L415.1 181.21 L415.2 181.34 L415.3 181.45 L415.4 181.54 L415.5 181.61 L415.6 181.68 L415.7 181.73 L415.8 181.78 L416 181.85 L416.2 181.91 L416.4 181.95 L416.7 182 L417.1 182.05 L417.7 182.09 L418.7 182.13 L421.5 182.17 L454.5 182.13 L455.4 182.08 L455.9 182.04 L456.2 182 L456.5 181.94 L456.7 181.89 L456.9 181.81 L457 181.77 L457.1 181.72 L457.2 181.65 L457.3 181.58 L457.4 181.49 L457.5 181.38 L457.6 181.25 L457.7 181.08 L457.8 180.86 L457.9 180.57 L458 180.18 L458.1 179.62 L458.2 178.82 L458.3 177.76 L458.4 176.83 L458.5 176.87 L458.6 177.82 L458.7 178.87 L458.8 179.66 L458.9 180.2 L459 180.59 L459.1 180.87 L459.2 181.09 L459.3 181.25 L459.4 181.39 L459.5 181.49 L459.6 181.58 L459.7 181.66 L459.8 181.72 L459.9 181.77 L460 181.82 L460.2 181.89 L460.4 181.94 L460.6 181.98 L460.9 182.03 L461.3 182.07 L462 182.11 L463.5 182.15 L471.1 182.11 L471.6 182.06 L471.9 182.01 L472.1 181.96 L472.2 181.93 L472.3 181.89 L472.4 181.84 L472.5 181.77 L472.6 181.68 L472.7 181.57 L472.8 181.43 L472.9 181.29 L473 181.2 L473.1 181.22 L473.2 181.33 L473.3 181.47 L473.4 181.61 L473.5 181.71 L473.6 181.79 L473.7 181.85 L473.8 181.9 L474 181.97 L474.2 182.02 L474.5 182.07 L475 182.11 L476 182.16 L486.7 182.2 L542.1 182.2" fill="none" stroke="#2c2c2c" stroke-width="1.1" stroke-linejoin="round"/>
<rect x="309.3" y="6.2" width="232.8" height="184.3" fill="none" stroke="#262626" stroke-width="1.1"/>
<line x1="348.1" y1="190.5" x2="348.1" y2="187.3" stroke="#262626" stroke-width="0.9"/>
<line x1="386.9" y1="190.5" x2="386.9" y2="187.3" stroke="#262626" stroke-width="0.9"/>
<line x1="425.7" y1="190.5" x2="425.7" y2="187.3" stroke="#262626" stroke-width="0.9"/>
<line x1="464.5" y1="190.5" x2="464.5" y2="187.3" stroke="#262626" stroke-width="0.9"/>
<line x1="503.3" y1="190.5" x2="503.3" y2="187.3" stroke="#262626" stroke-width="0.9"/>
<line x1="309.3" y1="181.9" x2="311.86" y2="181.9" stroke="#262626" stroke-width="0.9"/>
<line x1="309.3" y1="164.4" x2="311.86" y2="164.4" stroke="#262626" stroke-width="0.9"/>
<line x1="309.3" y1="146.9" x2="311.86" y2="146.9" stroke="#262626" stroke-width="0.9"/>
<line x1="309.3" y1="129.4" x2="311.86" y2="129.4" stroke="#262626" stroke-width="0.9"/>
<line x1="309.3" y1="111.9" x2="311.86" y2="111.9" stroke="#262626" stroke-width="0.9"/>
<line x1="309.3" y1="94.4" x2="311.86" y2="94.4" stroke="#262626" stroke-width="0.9"/>
<line x1="309.3" y1="76.9" x2="311.86" y2="76.9" stroke="#262626" stroke-width="0.9"/>
<line x1="309.3" y1="59.4" x2="311.86" y2="59.4" stroke="#262626" stroke-width="0.9"/>
<line x1="309.3" y1="41.9" x2="311.86" y2="41.9" stroke="#262626" stroke-width="0.9"/>
<line x1="309.3" y1="24.4" x2="311.86" y2="24.4" stroke="#262626" stroke-width="0.9"/>
<text transform="translate(309.3 201.3) scale(0.98 1)" font-size="7.5" text-anchor="middle" font-weight="normal">10</text>
<text transform="translate(348.1 201.3) scale(0.98 1)" font-size="7.5" text-anchor="middle" font-weight="normal">15</text>
<text transform="translate(386.9 201.3) scale(0.98 1)" font-size="7.5" text-anchor="middle" font-weight="normal">20</text>
<text transform="translate(425.7 201.3) scale(0.98 1)" font-size="7.5" text-anchor="middle" font-weight="normal">25</text>
<text transform="translate(464.5 201.3) scale(0.98 1)" font-size="7.5" text-anchor="middle" font-weight="normal">30</text>
<text transform="translate(503.3 201.3) scale(0.98 1)" font-size="7.5" text-anchor="middle" font-weight="normal">35</text>
<text transform="translate(542.1 201.3) scale(0.98 1)" font-size="7.5" text-anchor="middle" font-weight="normal">40</text>
<rect x="344.74" y="13.15" width="3.3" height="3.3" fill="#000"/>
<rect x="429.64" y="29.35" width="3.3" height="3.3" fill="#000"/>
<rect x="461.3" y="10.15" width="3.3" height="3.3" fill="#000"/>
<rect x="477.59" y="31.35" width="3.3" height="3.3" fill="#000"/>
<rect x="344.74" y="41.35" width="3.3" height="3.3" fill="#000"/>
<rect x="429.64" y="58.15" width="3.3" height="3.3" fill="#000"/>
<rect x="461.3" y="39.35" width="3.3" height="3.3" fill="#000"/>
<rect x="477.59" y="61.35" width="3.3" height="3.3" fill="#000"/>
<rect x="344.74" y="73.85" width="3.3" height="3.3" fill="#000"/>
<rect x="429.64" y="86.85" width="3.3" height="3.3" fill="#000"/>
<rect x="461.3" y="69.35" width="3.3" height="3.3" fill="#000"/>
<rect x="477.59" y="92.15" width="3.3" height="3.3" fill="#000"/>
<polygon points="322.72,100.15 323.39,101.59 324.96,101.77 323.8,102.85 324.11,104.4 322.72,103.63 321.34,104.4 321.65,102.85 320.49,101.77 322.06,101.59" fill="#000"/>
<rect x="344.44" y="114.85" width="3.9" height="3.9" fill="#000"/>
<polygon points="393.42,115.65 394.08,117.09 395.65,117.27 394.49,118.35 394.8,119.9 393.42,119.13 392.04,119.9 392.35,118.35 391.18,117.27 392.76,117.09" fill="#000"/>
<polygon points="414.06,115.15 414.72,116.59 416.29,116.77 415.13,117.85 415.44,119.4 414.06,118.63 412.68,119.4 412.99,117.85 411.83,116.77 413.4,116.59" fill="#000"/>
<polygon points="431.29,116.95 431.95,118.39 433.52,118.57 432.36,119.65 432.67,121.2 431.29,120.43 429.91,121.2 430.21,119.65 429.05,118.57 430.62,118.39" fill="#000"/>
<polygon points="458.45,116.15 459.11,117.59 460.68,117.77 459.52,118.85 459.83,120.4 458.45,119.63 457.07,120.4 457.37,118.85 456.21,117.77 457.78,117.59" fill="#000"/>
<rect x="461.77" y="116.05" width="3.9" height="3.9" fill="#000"/>
<polygon points="322.72,125.65 323.39,127.09 324.96,127.27 323.8,128.35 324.11,129.9 322.72,129.13 321.34,129.9 321.65,128.35 320.49,127.27 322.06,127.09" fill="#000"/>
<polygon points="393.42,173.15 394.08,174.59 395.65,174.77 394.49,175.85 394.8,177.4 393.42,176.63 392.04,177.4 392.35,175.85 391.18,174.77 392.76,174.59" fill="#000"/>
<polygon points="414.06,167.65 414.72,169.09 416.29,169.27 415.13,170.35 415.44,171.9 414.06,171.13 412.68,171.9 412.99,170.35 411.83,169.27 413.4,169.09" fill="#000"/>
<polygon points="458.45,171.15 459.11,172.59 460.68,172.77 459.52,173.85 459.83,175.4 458.45,174.63 457.07,175.4 457.37,173.85 456.21,172.77 457.78,172.59" fill="#000"/>
<text transform="translate(529.3 35) scale(0.96 1)" font-size="6.9" text-anchor="end" font-weight="normal">8h</text>
<text transform="translate(529.3 65.6) scale(0.96 1)" font-size="6.9" text-anchor="end" font-weight="normal">6h</text>
<text transform="translate(529.8 93.2) scale(0.96 1)" font-size="6.9" text-anchor="end" font-weight="normal">4.5h</text>
<text transform="translate(529.3 121) scale(0.96 1)" font-size="6.9" text-anchor="end" font-weight="normal">2h</text>
<text transform="translate(529.3 175.2) scale(0.96 1)" font-size="6.9" text-anchor="end" font-weight="normal">1h</text>
<text transform="translate(316.8 16.2) scale(0.96 1)" font-size="7" text-anchor="start" font-weight="normal">(b)</text>
<rect x="495.05" y="12.55" width="2.5" height="2.5" fill="#000"/>
<text x="498.6" y="15.5" font-size="5.8">CaSO4 ·0.5H<tspan font-size="4.18" dy="1.74">2</tspan><tspan dy="-1.74">O</tspan></text>
<polygon points="497.7,20.7 498.35,22.11 499.89,22.29 498.75,23.34 499.05,24.86 497.7,24.1 496.35,24.86 496.65,23.34 495.51,22.29 497.05,22.11" fill="#000"/>
<text x="500.7" y="25.5" font-size="5.8">CaSO4 ·2H<tspan font-size="4.18" dy="1.74">2</tspan><tspan dy="-1.74">O</tspan></text>
<text transform="translate(298.4 98.8) rotate(-90)" font-size="9" text-anchor="middle">Intensity</text>
<text x="426" y="214.6" font-size="9" text-anchor="middle" font-weight="bold">2θ(°)</text>
<rect x="24.5" y="296.5" width="230.7" height="12.5" fill="#f0faf9"/>
<path d="M24.5 258.3 L55.1 258.26 L57 258.22 L57.8 258.17 L58.3 258.13 L58.7 258.08 L59 258.02 L59.2 257.97 L59.4 257.91 L59.5 257.87 L59.6 257.82 L59.7 257.77 L59.8 257.71 L59.9 257.63 L60 257.55 L60.1 257.44 L60.2 257.32 L60.3 257.16 L60.4 256.98 L60.5 256.74 L60.6 256.44 L60.7 256.05 L60.8 255.52 L60.9 254.79 L61 253.7 L61.1 252.05 L61.2 249.66 L61.3 247.51 L61.4 247.98 L61.5 250.43 L61.6 252.62 L61.7 254.07 L61.8 255.03 L61.9 255.7 L62 256.18 L62.1 256.54 L62.2 256.82 L62.3 257.04 L62.4 257.21 L62.5 257.36 L62.6 257.48 L62.7 257.57 L62.8 257.66 L62.9 257.73 L63 257.78 L63.1 257.84 L63.2 257.88 L63.4 257.95 L63.6 258.01 L63.8 258.05 L64.1 258.1 L64.5 258.14 L65.1 258.19 L66.1 258.23 L68.7 258.27 L142.5 258.23 L143.2 258.19 L143.6 258.14 L143.9 258.09 L144.1 258.03 L144.3 257.96 L144.4 257.92 L144.5 257.86 L144.6 257.8 L144.7 257.71 L144.8 257.6 L144.9 257.46 L145 257.26 L145.1 257.01 L145.2 256.69 L145.3 256.4 L145.4 256.3 L145.5 256.47 L145.6 256.78 L145.7 257.08 L145.8 257.32 L145.9 257.5 L146 257.63 L146.1 257.74 L146.2 257.82 L146.3 257.88 L146.4 257.93 L146.5 257.98 L146.7 258.04 L146.9 258.09 L147.2 258.14 L147.6 258.19 L148.3 258.23 L150.1 258.27 L171.7 258.23 L172.8 258.18 L173.4 258.14 L173.8 258.09 L174.1 258.04 L174.3 257.99 L174.5 257.94 L174.7 257.87 L174.8 257.82 L174.9 257.77 L175 257.71 L175.1 257.64 L175.2 257.56 L175.3 257.46 L175.4 257.35 L175.5 257.21 L175.6 257.03 L175.7 256.82 L175.8 256.55 L175.9 256.2 L176 255.74 L176.1 255.12 L176.2 254.25 L176.3 252.93 L176.4 250.91 L176.5 248.15 L176.6 246.31 L176.7 247.71 L176.8 250.5 L176.9 252.66 L177 254.07 L177.1 255 L177.2 255.65 L177.3 256.13 L177.4 256.49 L177.5 256.78 L177.6 257 L177.7 257.18 L177.8 257.33 L177.9 257.45 L178 257.55 L178.1 257.63 L178.2 257.7 L178.3 257.76 L178.4 257.81 L178.5 257.86 L178.7 257.93 L178.9 257.99 L179.1 258.03 L179.4 258.09 L179.8 258.13 L180.3 258.17 L181.2 258.22 L183.3 258.26 L190.9 258.21 L191.4 258.17 L191.7 258.13 L191.9 258.08 L192.1 258.02 L192.2 257.98 L192.3 257.92 L192.4 257.85 L192.5 257.76 L192.6 257.64 L192.7 257.5 L192.8 257.36 L192.9 257.29 L193 257.34 L193.1 257.47 L193.2 257.61 L193.3 257.74 L193.4 257.84 L193.5 257.91 L193.6 257.97 L193.7 258.01 L193.9 258.08 L194.1 258.13 L194.4 258.17 L194.9 258.22 L196 258.26 L226.6 258.3 L255.1 258.3" fill="none" stroke="#c9bb3a" stroke-width="1.25" stroke-linejoin="round"/>
<path d="M24.5 275 L54.8 274.96 L56.7 274.92 L57.6 274.88 L58.1 274.84 L58.5 274.79 L58.8 274.74 L59 274.69 L59.2 274.64 L59.4 274.57 L59.5 274.52 L59.6 274.47 L59.7 274.41 L59.8 274.34 L59.9 274.26 L60 274.17 L60.1 274.05 L60.2 273.91 L60.3 273.74 L60.4 273.53 L60.5 273.27 L60.6 272.93 L60.7 272.5 L60.8 271.91 L60.9 271.08 L61 269.86 L61.1 267.99 L61.2 265.26 L61.3 262.75 L61.4 263.3 L61.5 266.14 L61.6 268.63 L61.7 270.28 L61.8 271.36 L61.9 272.1 L62 272.64 L62.1 273.04 L62.2 273.35 L62.3 273.6 L62.4 273.8 L62.5 273.96 L62.6 274.09 L62.7 274.2 L62.8 274.29 L62.9 274.37 L63 274.43 L63.1 274.49 L63.2 274.54 L63.3 274.58 L63.5 274.65 L63.7 274.7 L63.9 274.74 L64.2 274.79 L64.6 274.84 L65.2 274.88 L66.2 274.93 L68.6 274.97 L142.6 274.92 L143.3 274.88 L143.7 274.82 L144 274.76 L144.2 274.7 L144.3 274.66 L144.4 274.62 L144.5 274.56 L144.6 274.5 L144.7 274.41 L144.8 274.3 L144.9 274.16 L145 273.96 L145.1 273.71 L145.2 273.39 L145.3 273.1 L145.4 273 L145.5 273.17 L145.6 273.48 L145.7 273.78 L145.8 274.02 L145.9 274.2 L146 274.33 L146.1 274.44 L146.2 274.52 L146.3 274.58 L146.4 274.63 L146.5 274.68 L146.7 274.74 L146.9 274.79 L147.2 274.84 L147.6 274.89 L148.3 274.93 L150.1 274.97 L171.6 274.93 L172.7 274.88 L173.3 274.84 L173.7 274.8 L174 274.75 L174.2 274.71 L174.4 274.66 L174.6 274.59 L174.7 274.55 L174.8 274.51 L174.9 274.46 L175 274.39 L175.1 274.32 L175.2 274.24 L175.3 274.14 L175.4 274.02 L175.5 273.87 L175.6 273.69 L175.7 273.47 L175.8 273.19 L175.9 272.83 L176 272.35 L176.1 271.71 L176.2 270.8 L176.3 269.44 L176.4 267.33 L176.5 264.45 L176.6 262.51 L176.7 263.98 L176.8 266.9 L176.9 269.15 L177 270.61 L177.1 271.58 L177.2 272.26 L177.3 272.76 L177.4 273.13 L177.5 273.42 L177.6 273.66 L177.7 273.84 L177.8 273.99 L177.9 274.12 L178 274.22 L178.1 274.31 L178.2 274.38 L178.3 274.45 L178.4 274.5 L178.5 274.55 L178.6 274.59 L178.8 274.65 L179 274.7 L179.2 274.75 L179.5 274.79 L179.9 274.84 L180.5 274.88 L181.5 274.92 L184.2 274.96 L190.8 274.92 L191.4 274.87 L191.7 274.83 L191.9 274.78 L192.1 274.72 L192.2 274.68 L192.3 274.62 L192.4 274.55 L192.5 274.46 L192.6 274.34 L192.7 274.2 L192.8 274.06 L192.9 273.99 L193 274.04 L193.1 274.17 L193.2 274.31 L193.3 274.44 L193.4 274.54 L193.5 274.61 L193.6 274.67 L193.7 274.71 L193.9 274.78 L194.1 274.83 L194.4 274.87 L194.9 274.92 L196 274.96 L224.4 275 L255.1 275" fill="none" stroke="#b08ee8" stroke-width="1.25" stroke-linejoin="round"/>
<path d="M24.5 296.5 L35.8 296.45 L36.6 296.41 L37 296.35 L37.2 296.3 L37.3 296.26 L37.4 296.21 L37.5 296.15 L37.6 296.09 L37.7 296.02 L37.9 296.02 L38 296.08 L38.1 296.15 L38.2 296.21 L38.3 296.26 L38.5 296.33 L38.7 296.37 L39.1 296.42 L39.9 296.46 L56.4 296.41 L57.3 296.37 L57.9 296.32 L58.3 296.28 L58.6 296.23 L58.8 296.19 L59 296.13 L59.2 296.07 L59.3 296.03 L59.4 295.98 L59.5 295.93 L59.6 295.87 L59.7 295.8 L59.8 295.72 L59.9 295.62 L60 295.5 L60.1 295.36 L60.2 295.2 L60.3 294.99 L60.4 294.74 L60.5 294.42 L60.6 294.01 L60.7 293.47 L60.8 292.75 L60.9 291.75 L61 290.26 L61.1 287.94 L61.2 284.52 L61.3 281.32 L61.4 282.02 L61.5 285.64 L61.6 288.74 L61.7 290.77 L61.8 292.09 L61.9 292.99 L62 293.65 L62.1 294.14 L62.2 294.52 L62.3 294.82 L62.4 295.06 L62.5 295.25 L62.6 295.41 L62.7 295.54 L62.8 295.65 L62.9 295.74 L63 295.82 L63.1 295.89 L63.2 295.95 L63.3 296 L63.4 296.04 L63.6 296.11 L63.8 296.17 L64 296.21 L64.3 296.27 L64.7 296.32 L65.2 296.36 L66 296.4 L67.5 296.44 L73.1 296.48 L141.5 296.44 L142.5 296.4 L143.1 296.35 L143.4 296.31 L143.7 296.25 L143.9 296.2 L144 296.17 L144.1 296.12 L144.2 296.08 L144.3 296.02 L144.4 295.95 L144.5 295.87 L144.6 295.77 L144.7 295.64 L144.8 295.47 L144.9 295.24 L145 294.94 L145.1 294.51 L145.2 293.96 L145.3 293.41 L145.4 293.2 L145.5 293.53 L145.6 294.11 L145.7 294.64 L145.8 295.03 L145.9 295.31 L146 295.52 L146.1 295.67 L146.2 295.8 L146.3 295.89 L146.4 295.97 L146.5 296.04 L146.6 296.09 L146.7 296.14 L146.9 296.21 L147.1 296.26 L147.3 296.3 L147.6 296.34 L148.1 296.39 L148.9 296.43 L151.3 296.47 L170.7 296.43 L172 296.39 L172.7 296.35 L173.2 296.3 L173.6 296.25 L173.9 296.19 L174.1 296.14 L174.3 296.08 L174.4 296.05 L174.5 296.01 L174.6 295.96 L174.7 295.91 L174.8 295.85 L174.9 295.78 L175 295.7 L175.1 295.6 L175.2 295.49 L175.3 295.35 L175.4 295.19 L175.5 294.99 L175.6 294.75 L175.7 294.45 L175.8 294.07 L175.9 293.58 L176 292.94 L176.1 292.07 L176.2 290.82 L176.3 288.95 L176.4 286.03 L176.5 281.93 L176.6 279.12 L176.7 281.26 L176.8 285.42 L176.9 288.56 L177 290.57 L177.1 291.89 L177.2 292.81 L177.3 293.49 L177.4 294 L177.5 294.39 L177.6 294.71 L177.7 294.96 L177.8 295.16 L177.9 295.33 L178 295.47 L178.1 295.58 L178.2 295.68 L178.3 295.77 L178.4 295.84 L178.5 295.9 L178.6 295.95 L178.7 296 L178.8 296.04 L179 296.11 L179.2 296.16 L179.4 296.21 L179.7 296.26 L180.1 296.31 L180.6 296.35 L181.4 296.4 L182.9 296.44 L191.2 296.39 L191.6 296.34 L191.9 296.28 L192.1 296.22 L192.2 296.18 L192.3 296.12 L192.4 296.05 L192.5 295.96 L192.6 295.84 L192.7 295.7 L192.8 295.56 L192.9 295.49 L193 295.54 L193.1 295.66 L193.2 295.81 L193.3 295.94 L193.4 296.03 L193.5 296.11 L193.6 296.17 L193.7 296.21 L193.9 296.28 L194.1 296.32 L194.4 296.37 L194.9 296.41 L195.9 296.45 L206.1 296.49 L255.1 296.5" fill="none" stroke="#557d50" stroke-width="1.25" stroke-linejoin="round"/>
<path d="M24.5 307.29 L32.7 307.25 L34.1 307.21 L34.8 307.16 L35.2 307.12 L35.5 307.08 L35.7 307.03 L35.9 306.98 L36.1 306.91 L36.2 306.87 L36.3 306.82 L36.4 306.76 L36.5 306.69 L36.6 306.61 L36.7 306.51 L36.8 306.39 L36.9 306.24 L37 306.06 L37.1 305.82 L37.2 305.51 L37.3 305.09 L37.4 304.5 L37.5 303.63 L37.6 302.34 L37.7 300.73 L37.8 299.8 L37.9 300.62 L38 302.23 L38.1 303.55 L38.2 304.44 L38.3 305.05 L38.4 305.48 L38.5 305.8 L38.6 306.04 L38.7 306.23 L38.8 306.38 L38.9 306.5 L39 306.61 L39.1 306.69 L39.2 306.76 L39.3 306.82 L39.4 306.87 L39.5 306.91 L39.7 306.98 L39.9 307.03 L40.1 307.07 L40.4 307.12 L40.8 307.16 L41.4 307.2 L42.6 307.24 L48.8 307.28 L56.8 307.24 L58 307.2 L58.6 307.15 L59 307.1 L59.3 307.05 L59.5 307 L59.7 306.94 L59.8 306.89 L59.9 306.85 L60 306.79 L60.1 306.72 L60.2 306.64 L60.3 306.55 L60.4 306.43 L60.5 306.28 L60.6 306.1 L60.7 305.86 L60.8 305.54 L60.9 305.1 L61 304.47 L61.1 303.56 L61.2 302.36 L61.3 301.39 L61.4 301.59 L61.5 302.73 L61.6 303.87 L61.7 304.69 L61.8 305.25 L61.9 305.65 L62 305.94 L62.1 306.16 L62.2 306.33 L62.3 306.47 L62.4 306.58 L62.5 306.67 L62.6 306.75 L62.7 306.81 L62.8 306.86 L62.9 306.91 L63.1 306.98 L63.3 307.04 L63.5 307.08 L63.8 307.12 L64.2 307.17 L64.9 307.21 L66.3 307.25 L75.4 307.29 L105.2 307.25 L106.1 307.2 L106.5 307.16 L106.8 307.1 L107 307.04 L107.1 307.01 L107.2 306.96 L107.3 306.89 L107.4 306.81 L107.5 306.71 L107.6 306.57 L107.7 306.43 L107.8 306.32 L107.9 306.31 L108 306.4 L108.1 306.55 L108.2 306.68 L108.3 306.79 L108.4 306.88 L108.5 306.95 L108.6 307 L108.7 307.04 L108.9 307.1 L109.1 307.14 L109.4 307.18 L109.9 307.22 L111.1 307.26 L125.9 307.22 L126.5 307.17 L126.8 307.13 L127.1 307.07 L127.3 307.01 L127.4 306.96 L127.5 306.92 L127.6 306.85 L127.7 306.77 L127.8 306.67 L127.9 306.54 L128 306.36 L128.1 306.14 L128.2 305.92 L128.3 305.8 L128.4 305.87 L128.5 306.07 L128.6 306.3 L128.7 306.49 L128.8 306.64 L128.9 306.75 L129 306.83 L129.1 306.9 L129.2 306.95 L129.3 306.99 L129.5 307.06 L129.7 307.11 L130 307.16 L130.4 307.2 L131.2 307.24 L134.2 307.28 L142.5 307.24 L143.3 307.2 L143.7 307.16 L144 307.11 L144.2 307.06 L144.4 306.99 L144.5 306.95 L144.6 306.9 L144.7 306.83 L144.8 306.75 L144.9 306.64 L145 306.49 L145.1 306.3 L145.2 306.07 L145.3 305.87 L145.4 305.8 L145.5 305.91 L145.6 306.13 L145.7 306.35 L145.8 306.53 L145.9 306.67 L146 306.77 L146.1 306.85 L146.2 306.91 L146.3 306.96 L146.4 307 L146.6 307.07 L146.8 307.11 L147.1 307.16 L147.6 307.21 L148.5 307.25 L153.3 307.29 L168.5 307.25 L169.7 307.21 L170.3 307.16 L170.7 307.11 L171 307.05 L171.2 307 L171.3 306.96 L171.4 306.92 L171.5 306.87 L171.6 306.8 L171.7 306.72 L171.8 306.61 L171.9 306.47 L172 306.28 L172.1 306.05 L172.2 305.84 L172.3 305.74 L172.4 305.82 L172.5 306.03 L172.6 306.26 L172.7 306.44 L172.8 306.58 L172.9 306.68 L173 306.76 L173.1 306.82 L173.2 306.86 L173.4 306.93 L173.6 306.97 L174.8 306.92 L175 306.86 L175.1 306.82 L175.2 306.77 L175.3 306.71 L175.4 306.64 L175.5 306.56 L175.6 306.46 L175.7 306.33 L175.8 306.18 L175.9 305.97 L176 305.71 L176.1 305.36 L176.2 304.87 L176.3 304.15 L176.4 303.11 L176.5 301.84 L176.6 301.08 L176.7 301.65 L176.8 302.92 L176.9 304.01 L177 304.78 L177.1 305.3 L177.2 305.68 L177.3 305.95 L177.4 306.17 L177.5 306.33 L177.6 306.47 L177.7 306.57 L177.8 306.66 L177.9 306.74 L178 306.8 L178.1 306.85 L178.2 306.9 L178.4 306.97 L178.6 307.02 L178.8 307.07 L179.1 307.11 L179.5 307.16 L180.1 307.2 L181.3 307.24 L191.4 307.19 L191.8 307.14 L192 307.1 L192.2 307.04 L192.3 306.99 L192.4 306.93 L192.5 306.86 L192.6 306.77 L192.7 306.65 L192.8 306.55 L192.9 306.49 L193 306.53 L193.1 306.63 L193.2 306.74 L193.3 306.84 L193.4 306.92 L193.5 306.98 L193.6 307.03 L193.8 307.1 L194 307.14 L194.3 307.18 L194.8 307.23 L196 307.27 L255.1 307.3" fill="none" stroke="#5656dc" stroke-width="1.25" stroke-linejoin="round"/>
<path d="M24.5 347.57 L29.4 347.53 L31.2 347.49 L32.2 347.45 L32.9 347.4 L33.4 347.36 L33.8 347.31 L34.1 347.26 L34.4 347.2 L34.6 347.15 L34.8 347.09 L35 347.01 L35.1 346.97 L35.2 346.92 L35.3 346.87 L35.4 346.81 L35.5 346.75 L35.6 346.67 L35.7 346.59 L35.8 346.49 L35.9 346.39 L36 346.26 L36.1 346.11 L36.2 345.94 L36.3 345.75 L36.4 345.51 L36.5 345.23 L36.6 344.89 L36.7 344.48 L36.8 343.98 L36.9 343.35 L37 342.55 L37.1 341.53 L37.2 340.17 L37.3 338.33 L37.4 335.7 L37.5 331.72 L37.6 325.48 L37.7 316.76 L37.8 311.11 L37.9 316.11 L38 324.9 L38.1 331.35 L38.2 335.46 L38.3 338.17 L38.4 340.06 L38.5 341.44 L38.6 342.48 L38.7 343.29 L38.8 343.93 L38.9 344.45 L39 344.86 L39.1 345.21 L39.2 345.49 L39.3 345.73 L39.4 345.93 L39.5 346.1 L39.6 346.25 L39.7 346.38 L39.8 346.49 L39.9 346.58 L40 346.67 L40.1 346.74 L40.2 346.81 L40.3 346.87 L40.4 346.92 L40.5 346.97 L40.6 347.01 L40.8 347.08 L41 347.14 L41.2 347.19 L41.4 347.24 L41.7 347.29 L42 347.33 L42.4 347.38 L42.9 347.42 L43.6 347.46 L44.7 347.5 L46.8 347.54 L53.7 347.58 L105 347.54 L105.8 347.49 L106.2 347.45 L106.5 347.4 L106.7 347.35 L106.9 347.28 L107 347.24 L107.1 347.18 L107.2 347.11 L107.3 347.02 L107.4 346.9 L107.5 346.74 L107.6 346.54 L107.7 346.31 L107.8 346.13 L107.9 346.11 L108 346.27 L108.1 346.5 L108.2 346.71 L108.3 346.87 L108.4 347 L108.5 347.1 L108.6 347.17 L108.7 347.23 L108.8 347.28 L109 347.35 L109.2 347.4 L109.5 347.45 L109.9 347.49 L110.6 347.53 L112.8 347.57 L124 347.53 L125 347.49 L125.6 347.44 L126 347.39 L126.3 347.32 L126.5 347.27 L126.7 347.19 L126.8 347.15 L126.9 347.09 L127 347.03 L127.1 346.95 L127.2 346.86 L127.3 346.75 L127.4 346.61 L127.5 346.44 L127.6 346.22 L127.7 345.93 L127.8 345.55 L127.9 345.01 L128 344.23 L128.1 343.08 L128.2 341.61 L128.3 340.62 L128.4 341.2 L128.5 342.66 L128.6 343.93 L128.7 344.81 L128.8 345.41 L128.9 345.83 L129 346.14 L129.1 346.38 L129.2 346.56 L129.3 346.71 L129.4 346.83 L129.5 346.93 L129.6 347.01 L129.7 347.07 L129.8 347.13 L129.9 347.18 L130 347.22 L130.2 347.29 L130.4 347.34 L130.7 347.4 L131.1 347.45 L131.6 347.49 L132.5 347.53 L134.9 347.57 L169 347.53 L169.8 347.48 L170.2 347.44 L170.5 347.39 L170.7 347.35 L170.9 347.29 L171 347.25 L171.1 347.21 L171.2 347.16 L171.3 347.1 L171.4 347.02 L171.5 346.93 L171.6 346.82 L171.7 346.67 L171.8 346.47 L171.9 346.2 L172 345.83 L172.1 345.35 L172.2 344.84 L172.3 344.6 L172.4 344.83 L172.5 345.33 L172.6 345.81 L172.7 346.19 L172.8 346.46 L172.9 346.66 L173 346.81 L173.1 346.93 L173.2 347.02 L173.3 347.1 L173.4 347.16 L173.5 347.21 L173.6 347.25 L173.8 347.32 L174 347.37 L174.3 347.43 L174.7 347.47 L175.3 347.51 L176.6 347.56 L185.5 347.51 L185.9 347.46 L186.1 347.41 L186.2 347.38 L186.3 347.34 L186.4 347.29 L186.5 347.22 L186.6 347.15 L186.7 347.1 L186.8 347.1 L186.9 347.14 L187 347.21 L187.1 347.28 L187.2 347.33 L187.3 347.38 L187.5 347.44 L187.8 347.49 L188.3 347.53 L189.6 347.57 L255.1 347.6" fill="none" stroke="#c4844e" stroke-width="1.25" stroke-linejoin="round"/>
<path d="M24.5 386.37 L29.4 386.33 L31.2 386.29 L32.2 386.25 L32.9 386.2 L33.4 386.16 L33.8 386.11 L34.1 386.06 L34.4 386 L34.6 385.95 L34.8 385.89 L35 385.82 L35.1 385.78 L35.2 385.73 L35.3 385.68 L35.4 385.62 L35.5 385.56 L35.6 385.49 L35.7 385.4 L35.8 385.31 L35.9 385.2 L36 385.08 L36.1 384.93 L36.2 384.77 L36.3 384.57 L36.4 384.34 L36.5 384.06 L36.6 383.73 L36.7 383.32 L36.8 382.83 L36.9 382.2 L37 381.42 L37.1 380.41 L37.2 379.08 L37.3 377.26 L37.4 374.66 L37.5 370.74 L37.6 364.58 L37.7 355.98 L37.8 350.41 L37.9 355.34 L38 364.01 L38.1 370.37 L38.2 374.42 L38.3 377.1 L38.4 378.96 L38.5 380.32 L38.6 381.35 L38.7 382.15 L38.8 382.78 L38.9 383.29 L39 383.7 L39.1 384.04 L39.2 384.32 L39.3 384.56 L39.4 384.75 L39.5 384.92 L39.6 385.07 L39.7 385.19 L39.8 385.3 L39.9 385.4 L40 385.48 L40.1 385.55 L40.2 385.62 L40.3 385.68 L40.4 385.73 L40.5 385.78 L40.6 385.82 L40.8 385.89 L41 385.95 L41.2 386 L41.4 386.04 L41.7 386.09 L42 386.13 L42.4 386.18 L42.9 386.22 L43.6 386.26 L44.7 386.3 L46.8 386.34 L53.9 386.38 L105 386.34 L105.8 386.29 L106.2 386.25 L106.5 386.2 L106.7 386.15 L106.9 386.08 L107 386.04 L107.1 385.98 L107.2 385.91 L107.3 385.82 L107.4 385.7 L107.5 385.54 L107.6 385.34 L107.7 385.11 L107.8 384.93 L107.9 384.91 L108 385.07 L108.1 385.3 L108.2 385.51 L108.3 385.67 L108.4 385.8 L108.5 385.9 L108.6 385.97 L108.7 386.03 L108.8 386.08 L109 386.15 L109.2 386.2 L109.5 386.25 L109.9 386.29 L110.6 386.33 L112.8 386.37 L124.1 386.33 L125.1 386.29 L125.6 386.25 L126 386.19 L126.3 386.14 L126.5 386.08 L126.7 386.01 L126.8 385.97 L126.9 385.91 L127 385.85 L127.1 385.78 L127.2 385.69 L127.3 385.59 L127.4 385.45 L127.5 385.29 L127.6 385.09 L127.7 384.82 L127.8 384.46 L127.9 383.95 L128 383.22 L128.1 382.16 L128.2 380.81 L128.3 379.92 L128.4 380.44 L128.5 381.77 L128.6 382.94 L128.7 383.76 L128.8 384.32 L128.9 384.72 L129 385.01 L129.1 385.24 L129.2 385.41 L129.3 385.55 L129.4 385.66 L129.5 385.76 L129.6 385.83 L129.7 385.9 L129.8 385.95 L129.9 386 L130.1 386.07 L130.3 386.13 L130.5 386.17 L130.8 386.22 L131.2 386.26 L131.8 386.3 L133 386.35 L137.9 386.39 L168.5 386.35 L169.5 386.3 L170 386.26 L170.4 386.21 L170.7 386.15 L170.9 386.09 L171 386.05 L171.1 386.01 L171.2 385.96 L171.3 385.9 L171.4 385.82 L171.5 385.73 L171.6 385.62 L171.7 385.47 L171.8 385.27 L171.9 385 L172 384.63 L172.1 384.15 L172.2 383.64 L172.3 383.4 L172.4 383.63 L172.5 384.13 L172.6 384.61 L172.7 384.99 L172.8 385.26 L172.9 385.46 L173 385.61 L173.1 385.73 L173.2 385.82 L173.3 385.9 L173.4 385.96 L173.5 386.01 L173.6 386.05 L173.8 386.12 L174 386.17 L174.3 386.23 L174.7 386.27 L175.3 386.31 L176.6 386.36 L185.5 386.31 L185.9 386.26 L186.1 386.21 L186.2 386.18 L186.3 386.14 L186.4 386.09 L186.5 386.02 L186.6 385.95 L186.7 385.9 L186.8 385.9 L186.9 385.94 L187 386.01 L187.1 386.08 L187.2 386.13 L187.3 386.18 L187.5 386.24 L187.8 386.29 L188.3 386.33 L189.6 386.37 L255.1 386.4" fill="none" stroke="#2c2c2c" stroke-width="1.25" stroke-linejoin="round"/>
<rect x="24.5" y="227.5" width="230.7" height="185" fill="none" stroke="#262626" stroke-width="1.1"/>
<line x1="101.4" y1="412.5" x2="101.4" y2="409.3" stroke="#262626" stroke-width="0.9"/>
<line x1="178.3" y1="412.5" x2="178.3" y2="409.3" stroke="#262626" stroke-width="0.9"/>
<line x1="62.95" y1="412.5" x2="62.95" y2="411.06" stroke="#262626" stroke-width="0.9"/>
<line x1="139.85" y1="412.5" x2="139.85" y2="411.06" stroke="#262626" stroke-width="0.9"/>
<line x1="216.75" y1="412.5" x2="216.75" y2="411.06" stroke="#262626" stroke-width="0.9"/>
<text transform="translate(24.5 423.5) scale(1 1)" font-size="8.1" text-anchor="middle" font-weight="normal">10</text>
<text transform="translate(101.4 423.5) scale(1 1)" font-size="8.1" text-anchor="middle" font-weight="normal">20</text>
<text transform="translate(178.3 423.5) scale(1 1)" font-size="8.1" text-anchor="middle" font-weight="normal">30</text>
<text transform="translate(255.2 423.5) scale(1 1)" font-size="8.1" text-anchor="middle" font-weight="normal">40</text>
<rect x="60.07" y="243.1" width="3.6" height="3.6" fill="#000"/>
<rect x="144.13" y="249.4" width="3.6" height="3.6" fill="#000"/>
<rect x="175.35" y="243.6" width="3.6" height="3.6" fill="#000"/>
<rect x="191.65" y="252.4" width="3.6" height="3.6" fill="#000"/>
<rect x="60.07" y="259.4" width="3.6" height="3.6" fill="#000"/>
<rect x="144.13" y="266.1" width="3.6" height="3.6" fill="#000"/>
<rect x="175.35" y="259.4" width="3.6" height="3.6" fill="#000"/>
<rect x="191.65" y="267.6" width="3.6" height="3.6" fill="#000"/>
<rect x="60.07" y="278.1" width="3.6" height="3.6" fill="#000"/>
<rect x="144.13" y="286.9" width="3.6" height="3.6" fill="#000"/>
<rect x="175.35" y="276.6" width="3.6" height="3.6" fill="#000"/>
<rect x="191.65" y="289.1" width="3.6" height="3.6" fill="#000"/>
<rect x="60.07" y="298.6" width="3.6" height="3.6" fill="#000"/>
<rect x="144.13" y="301.1" width="3.6" height="3.6" fill="#000"/>
<rect x="175.35" y="298.6" width="3.6" height="3.6" fill="#000"/>
<rect x="191.65" y="301.6" width="3.6" height="3.6" fill="#000"/>
<polygon points="37.42,346.5 38.12,348.03 39.8,348.23 38.56,349.37 38.89,351.02 37.42,350.2 35.95,351.02 36.28,349.37 35.04,348.23 36.71,348.03" fill="#000"/>
<polygon points="108.24,376.3 108.95,377.83 110.62,378.03 109.39,379.17 109.71,380.82 108.24,380 106.77,380.82 107.1,379.17 105.87,378.03 107.54,377.83" fill="#000"/>
<polygon points="129.08,373.3 129.79,374.83 131.46,375.03 130.23,376.17 130.55,377.82 129.08,377 127.61,377.82 127.94,376.17 126.71,375.03 128.38,374.83" fill="#000"/>
<polygon points="172.53,376.8 173.24,378.33 174.91,378.53 173.67,379.67 174,381.32 172.53,380.5 171.06,381.32 171.39,379.67 170.15,378.53 171.83,378.33" fill="#000"/>
<text transform="translate(248.3 255.8) scale(0.96 1)" font-size="7" text-anchor="end" font-weight="normal">3.0h</text>
<text transform="translate(248.3 271.6) scale(0.96 1)" font-size="7" text-anchor="end" font-weight="normal">2.0h</text>
<text transform="translate(248.3 291.6) scale(0.96 1)" font-size="7" text-anchor="end" font-weight="normal">1.5h</text>
<text transform="translate(248.3 304) scale(0.96 1)" font-size="7" text-anchor="end" font-weight="normal">1.0h</text>
<text transform="translate(248.3 340.8) scale(0.96 1)" font-size="7" text-anchor="end" font-weight="normal">0.5h</text>
<text transform="translate(248.3 380.8) scale(0.96 1)" font-size="7" text-anchor="end" font-weight="normal">0.0h</text>
<text transform="translate(29.6 236.2) scale(0.96 1)" font-size="7" text-anchor="start" font-weight="normal">(c)</text>
<rect x="201.2" y="232" width="3.2" height="3.2" fill="#000"/>
<text x="206" y="236" font-size="7.3">CaSO4 ·0.5H<tspan font-size="5.26" dy="2.19">2</tspan><tspan dy="-2.19">O</tspan></text>
<polygon points="203.9,240.8 204.8,242.76 206.94,243.01 205.36,244.47 205.78,246.59 203.9,245.54 202.02,246.59 202.44,244.47 200.86,243.01 203,242.76" fill="#000"/>
<text x="207.4" y="247" font-size="7.3">CaSO4 ·2H<tspan font-size="5.26" dy="2.19">2</tspan><tspan dy="-2.19">O</tspan></text>
<text transform="translate(12.5 314.8) rotate(-90)" font-size="9.6" text-anchor="middle">Intensity</text>
<text x="139.9" y="437.1" font-size="9.3" text-anchor="middle" font-weight="bold">2θ(°)</text>
</g>
</svg>
</body></html>
